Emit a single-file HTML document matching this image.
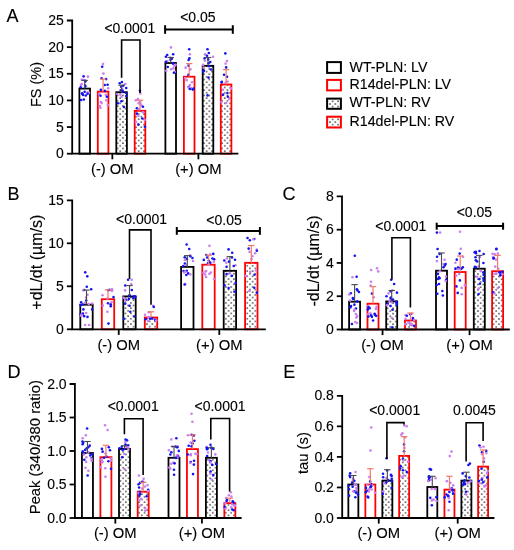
<!DOCTYPE html>
<html><head><meta charset="utf-8"><style>
html,body{margin:0;padding:0;background:#fff;width:514px;height:550px;overflow:hidden;}
body{position:relative;font-family:"Liberation Sans", sans-serif;}
text{stroke:#000;stroke-width:0.12px;}
</style></head><body>
<svg width="514" height="550" viewBox="0 0 514 550" style="position:absolute;left:0;top:0;filter:blur(0.3px)">
<defs>
<pattern id="dots" patternUnits="userSpaceOnUse" width="5.4" height="5.3" x="0" y="0"><circle cx="1.35" cy="1.3" r="0.75" fill="#222"/><circle cx="4.05" cy="3.95" r="0.75" fill="#222"/></pattern>
</defs>
<rect x="0" y="0" width="514" height="550" fill="#fff"/>
<g style='font-family:"Liberation Sans", sans-serif' fill="#000">
<rect x="79.40" y="88.60" width="10.60" height="65.10" fill="#fff" stroke="#000" stroke-width="1.8"/>
<rect x="97.80" y="91.60" width="10.60" height="62.10" fill="#fff" stroke="#ff0000" stroke-width="1.8"/>
<pattern id="pA2" patternUnits="userSpaceOnUse" width="5.4" height="5.3" x="117.55" y="153.70"><circle cx="0.00" cy="0.00" r="0.76" fill="#000"/><circle cx="5.40" cy="0.00" r="0.76" fill="#000"/><circle cx="0.00" cy="5.30" r="0.76" fill="#000"/><circle cx="5.40" cy="5.30" r="0.76" fill="#000"/><circle cx="2.70" cy="2.65" r="0.76" fill="#000"/></pattern>
<rect x="116.30" y="92.20" width="10.60" height="61.50" fill="url(#pA2)" stroke="#000" stroke-width="1.8"/>
<pattern id="pA3" patternUnits="userSpaceOnUse" width="5.4" height="5.3" x="135.95" y="153.70"><circle cx="0.00" cy="0.00" r="0.76" fill="#000"/><circle cx="5.40" cy="0.00" r="0.76" fill="#000"/><circle cx="0.00" cy="5.30" r="0.76" fill="#000"/><circle cx="5.40" cy="5.30" r="0.76" fill="#000"/><circle cx="2.70" cy="2.65" r="0.76" fill="#000"/></pattern>
<rect x="134.70" y="110.80" width="10.60" height="42.90" fill="url(#pA3)" stroke="#ff0000" stroke-width="1.8"/>
<rect x="165.40" y="63.00" width="10.60" height="90.70" fill="#fff" stroke="#000" stroke-width="1.8"/>
<rect x="183.90" y="76.70" width="10.60" height="77.00" fill="#fff" stroke="#ff0000" stroke-width="1.8"/>
<pattern id="pA6" patternUnits="userSpaceOnUse" width="5.4" height="5.3" x="203.95" y="153.70"><circle cx="0.00" cy="0.00" r="0.76" fill="#000"/><circle cx="5.40" cy="0.00" r="0.76" fill="#000"/><circle cx="0.00" cy="5.30" r="0.76" fill="#000"/><circle cx="5.40" cy="5.30" r="0.76" fill="#000"/><circle cx="2.70" cy="2.65" r="0.76" fill="#000"/></pattern>
<rect x="202.70" y="65.80" width="10.60" height="87.90" fill="url(#pA6)" stroke="#000" stroke-width="1.8"/>
<pattern id="pA7" patternUnits="userSpaceOnUse" width="5.4" height="5.3" x="222.05" y="153.70"><circle cx="0.00" cy="0.00" r="0.76" fill="#000"/><circle cx="5.40" cy="0.00" r="0.76" fill="#000"/><circle cx="0.00" cy="5.30" r="0.76" fill="#000"/><circle cx="5.40" cy="5.30" r="0.76" fill="#000"/><circle cx="2.70" cy="2.65" r="0.76" fill="#000"/></pattern>
<rect x="220.80" y="84.50" width="10.60" height="69.20" fill="url(#pA7)" stroke="#ff0000" stroke-width="1.8"/>
<circle cx="83.63" cy="76.36" r="1.3" fill="#1414f0"/>
<circle cx="87.98" cy="76.64" r="1.3" fill="#cc7eee"/>
<circle cx="81.79" cy="79.67" r="1.3" fill="#cc7eee"/>
<circle cx="83.87" cy="80.03" r="1.3" fill="#cc7eee"/>
<circle cx="85.22" cy="80.79" r="1.3" fill="#1414f0"/>
<circle cx="85.37" cy="81.41" r="1.3" fill="#1414f0"/>
<circle cx="81.86" cy="84.10" r="1.3" fill="#cc7eee"/>
<circle cx="80.96" cy="84.93" r="1.3" fill="#cc7eee"/>
<circle cx="85.11" cy="85.66" r="1.3" fill="#1414f0"/>
<circle cx="85.31" cy="86.53" r="1.3" fill="#1414f0"/>
<circle cx="80.65" cy="87.30" r="1.3" fill="#1414f0"/>
<circle cx="84.66" cy="91.84" r="1.3" fill="#1414f0"/>
<circle cx="87.53" cy="92.34" r="1.3" fill="#cc7eee"/>
<circle cx="89.02" cy="92.85" r="1.3" fill="#cc7eee"/>
<circle cx="82.13" cy="93.34" r="1.3" fill="#1414f0"/>
<circle cx="87.55" cy="93.81" r="1.3" fill="#1414f0"/>
<circle cx="82.66" cy="94.31" r="1.3" fill="#1414f0"/>
<circle cx="83.10" cy="94.97" r="1.3" fill="#1414f0"/>
<circle cx="85.81" cy="95.48" r="1.3" fill="#1414f0"/>
<circle cx="83.86" cy="99.50" r="1.3" fill="#1414f0"/>
<circle cx="81.15" cy="100.00" r="1.3" fill="#1414f0"/>
<circle cx="103.08" cy="64.10" r="1.3" fill="#cc7eee"/>
<circle cx="102.18" cy="66.80" r="1.3" fill="#1414f0"/>
<circle cx="103.44" cy="73.60" r="1.3" fill="#cc7eee"/>
<circle cx="101.57" cy="78.20" r="1.3" fill="#1414f0"/>
<circle cx="106.13" cy="79.10" r="1.3" fill="#1414f0"/>
<circle cx="107.64" cy="84.76" r="1.3" fill="#1414f0"/>
<circle cx="104.77" cy="85.00" r="1.3" fill="#1414f0"/>
<circle cx="108.13" cy="88.32" r="1.3" fill="#cc7eee"/>
<circle cx="100.90" cy="89.87" r="1.3" fill="#1414f0"/>
<circle cx="104.82" cy="90.90" r="1.3" fill="#1414f0"/>
<circle cx="99.19" cy="94.10" r="1.3" fill="#cc7eee"/>
<circle cx="105.84" cy="94.76" r="1.3" fill="#cc7eee"/>
<circle cx="100.53" cy="95.70" r="1.3" fill="#1414f0"/>
<circle cx="106.89" cy="96.74" r="1.3" fill="#1414f0"/>
<circle cx="106.36" cy="100.37" r="1.3" fill="#cc7eee"/>
<circle cx="100.84" cy="101.95" r="1.3" fill="#cc7eee"/>
<circle cx="101.66" cy="103.12" r="1.3" fill="#cc7eee"/>
<circle cx="107.77" cy="105.17" r="1.3" fill="#cc7eee"/>
<circle cx="99.80" cy="106.06" r="1.3" fill="#cc7eee"/>
<circle cx="100.38" cy="107.74" r="1.3" fill="#cc7eee"/>
<circle cx="121.95" cy="82.00" r="1.3" fill="#1414f0"/>
<circle cx="119.75" cy="83.22" r="1.3" fill="#1414f0"/>
<circle cx="125.26" cy="84.03" r="1.3" fill="#cc7eee"/>
<circle cx="123.18" cy="85.74" r="1.3" fill="#1414f0"/>
<circle cx="121.16" cy="86.74" r="1.3" fill="#1414f0"/>
<circle cx="126.21" cy="87.97" r="1.3" fill="#1414f0"/>
<circle cx="122.20" cy="88.98" r="1.3" fill="#cc7eee"/>
<circle cx="120.52" cy="89.93" r="1.3" fill="#cc7eee"/>
<circle cx="120.99" cy="90.29" r="1.3" fill="#1414f0"/>
<circle cx="122.63" cy="90.77" r="1.3" fill="#1414f0"/>
<circle cx="122.28" cy="91.76" r="1.3" fill="#1414f0"/>
<circle cx="126.18" cy="93.02" r="1.3" fill="#1414f0"/>
<circle cx="117.22" cy="94.07" r="1.3" fill="#cc7eee"/>
<circle cx="120.34" cy="94.82" r="1.3" fill="#cc7eee"/>
<circle cx="126.25" cy="96.00" r="1.3" fill="#1414f0"/>
<circle cx="121.48" cy="97.00" r="1.3" fill="#cc7eee"/>
<circle cx="121.40" cy="101.29" r="1.3" fill="#1414f0"/>
<circle cx="117.97" cy="103.29" r="1.3" fill="#1414f0"/>
<circle cx="124.05" cy="107.00" r="1.3" fill="#1414f0"/>
<circle cx="139.96" cy="90.70" r="1.3" fill="#1414f0"/>
<circle cx="140.38" cy="93.50" r="1.3" fill="#cc7eee"/>
<circle cx="137.94" cy="99.10" r="1.3" fill="#cc7eee"/>
<circle cx="135.83" cy="100.31" r="1.3" fill="#cc7eee"/>
<circle cx="140.19" cy="101.77" r="1.3" fill="#cc7eee"/>
<circle cx="138.53" cy="103.12" r="1.3" fill="#cc7eee"/>
<circle cx="140.42" cy="103.88" r="1.3" fill="#cc7eee"/>
<circle cx="141.39" cy="105.40" r="1.3" fill="#cc7eee"/>
<circle cx="142.94" cy="106.79" r="1.3" fill="#1414f0"/>
<circle cx="136.89" cy="108.20" r="1.3" fill="#1414f0"/>
<circle cx="138.99" cy="109.10" r="1.3" fill="#cc7eee"/>
<circle cx="142.96" cy="112.14" r="1.3" fill="#cc7eee"/>
<circle cx="136.88" cy="113.65" r="1.3" fill="#1414f0"/>
<circle cx="138.41" cy="116.01" r="1.3" fill="#cc7eee"/>
<circle cx="142.28" cy="118.46" r="1.3" fill="#1414f0"/>
<circle cx="144.84" cy="120.05" r="1.3" fill="#cc7eee"/>
<circle cx="135.94" cy="121.88" r="1.3" fill="#cc7eee"/>
<circle cx="138.34" cy="124.58" r="1.3" fill="#1414f0"/>
<circle cx="144.95" cy="126.78" r="1.3" fill="#1414f0"/>
<circle cx="170.92" cy="47.40" r="1.3" fill="#cc7eee"/>
<circle cx="173.18" cy="54.20" r="1.3" fill="#1414f0"/>
<circle cx="167.22" cy="55.02" r="1.3" fill="#1414f0"/>
<circle cx="165.88" cy="56.70" r="1.3" fill="#1414f0"/>
<circle cx="170.35" cy="57.52" r="1.3" fill="#cc7eee"/>
<circle cx="171.84" cy="58.65" r="1.3" fill="#1414f0"/>
<circle cx="170.44" cy="59.70" r="1.3" fill="#1414f0"/>
<circle cx="167.19" cy="61.02" r="1.3" fill="#cc7eee"/>
<circle cx="165.82" cy="61.85" r="1.3" fill="#1414f0"/>
<circle cx="173.01" cy="63.10" r="1.3" fill="#1414f0"/>
<circle cx="173.24" cy="63.73" r="1.3" fill="#1414f0"/>
<circle cx="175.66" cy="64.85" r="1.3" fill="#cc7eee"/>
<circle cx="174.51" cy="65.97" r="1.3" fill="#cc7eee"/>
<circle cx="167.77" cy="66.95" r="1.3" fill="#1414f0"/>
<circle cx="173.39" cy="68.35" r="1.3" fill="#cc7eee"/>
<circle cx="171.15" cy="69.32" r="1.3" fill="#cc7eee"/>
<circle cx="166.22" cy="70.74" r="1.3" fill="#cc7eee"/>
<circle cx="174.76" cy="71.77" r="1.3" fill="#cc7eee"/>
<circle cx="173.91" cy="72.70" r="1.3" fill="#1414f0"/>
<circle cx="189.23" cy="49.30" r="1.3" fill="#1414f0"/>
<circle cx="189.85" cy="54.20" r="1.3" fill="#cc7eee"/>
<circle cx="189.44" cy="58.35" r="1.3" fill="#1414f0"/>
<circle cx="188.59" cy="60.01" r="1.3" fill="#1414f0"/>
<circle cx="188.57" cy="65.60" r="1.3" fill="#1414f0"/>
<circle cx="185.63" cy="67.66" r="1.3" fill="#cc7eee"/>
<circle cx="190.41" cy="69.40" r="1.3" fill="#cc7eee"/>
<circle cx="188.44" cy="74.90" r="1.3" fill="#1414f0"/>
<circle cx="185.18" cy="78.02" r="1.3" fill="#cc7eee"/>
<circle cx="186.63" cy="80.16" r="1.3" fill="#cc7eee"/>
<circle cx="191.98" cy="82.20" r="1.3" fill="#cc7eee"/>
<circle cx="189.83" cy="85.00" r="1.3" fill="#cc7eee"/>
<circle cx="188.71" cy="86.96" r="1.3" fill="#1414f0"/>
<circle cx="188.98" cy="87.45" r="1.3" fill="#cc7eee"/>
<circle cx="191.23" cy="88.12" r="1.3" fill="#cc7eee"/>
<circle cx="193.71" cy="88.64" r="1.3" fill="#1414f0"/>
<circle cx="189.81" cy="88.98" r="1.3" fill="#1414f0"/>
<circle cx="192.67" cy="89.60" r="1.3" fill="#1414f0"/>
<circle cx="207.46" cy="49.20" r="1.3" fill="#1414f0"/>
<circle cx="208.86" cy="52.94" r="1.3" fill="#1414f0"/>
<circle cx="205.14" cy="54.38" r="1.3" fill="#cc7eee"/>
<circle cx="206.96" cy="55.74" r="1.3" fill="#1414f0"/>
<circle cx="213.00" cy="56.73" r="1.3" fill="#cc7eee"/>
<circle cx="204.55" cy="58.38" r="1.3" fill="#1414f0"/>
<circle cx="208.16" cy="59.42" r="1.3" fill="#1414f0"/>
<circle cx="204.90" cy="60.71" r="1.3" fill="#cc7eee"/>
<circle cx="210.27" cy="62.07" r="1.3" fill="#1414f0"/>
<circle cx="208.55" cy="63.19" r="1.3" fill="#1414f0"/>
<circle cx="203.08" cy="64.90" r="1.3" fill="#cc7eee"/>
<circle cx="209.26" cy="66.18" r="1.3" fill="#1414f0"/>
<circle cx="203.56" cy="67.70" r="1.3" fill="#cc7eee"/>
<circle cx="210.94" cy="69.46" r="1.3" fill="#1414f0"/>
<circle cx="203.97" cy="70.82" r="1.3" fill="#1414f0"/>
<circle cx="203.30" cy="71.61" r="1.3" fill="#1414f0"/>
<circle cx="208.56" cy="77.60" r="1.3" fill="#1414f0"/>
<circle cx="207.54" cy="95.40" r="1.3" fill="#1414f0"/>
<circle cx="225.36" cy="53.40" r="1.3" fill="#1414f0"/>
<circle cx="226.98" cy="61.07" r="1.3" fill="#cc7eee"/>
<circle cx="225.63" cy="63.60" r="1.3" fill="#cc7eee"/>
<circle cx="226.17" cy="67.40" r="1.3" fill="#1414f0"/>
<circle cx="224.05" cy="74.78" r="1.3" fill="#1414f0"/>
<circle cx="227.04" cy="76.75" r="1.3" fill="#1414f0"/>
<circle cx="227.47" cy="81.51" r="1.3" fill="#cc7eee"/>
<circle cx="221.85" cy="81.91" r="1.3" fill="#1414f0"/>
<circle cx="221.68" cy="82.36" r="1.3" fill="#1414f0"/>
<circle cx="225.63" cy="82.70" r="1.3" fill="#cc7eee"/>
<circle cx="230.89" cy="88.40" r="1.3" fill="#cc7eee"/>
<circle cx="222.85" cy="89.75" r="1.3" fill="#cc7eee"/>
<circle cx="227.41" cy="92.93" r="1.3" fill="#1414f0"/>
<circle cx="223.10" cy="94.66" r="1.3" fill="#1414f0"/>
<circle cx="227.86" cy="96.81" r="1.3" fill="#1414f0"/>
<circle cx="229.20" cy="98.84" r="1.3" fill="#cc7eee"/>
<circle cx="221.38" cy="102.10" r="1.3" fill="#cc7eee"/>
<circle cx="226.16" cy="103.04" r="1.3" fill="#cc7eee"/>
<line x1="84.70" y1="88.60" x2="84.70" y2="80.40" stroke="#4a4a4a" stroke-width="1.1"/>
<line x1="81.50" y1="80.40" x2="87.90" y2="80.40" stroke="#4a4a4a" stroke-width="1.1"/>
<line x1="103.10" y1="91.60" x2="103.10" y2="79.00" stroke="#f27a6a" stroke-width="1.2"/>
<line x1="99.90" y1="79.00" x2="106.30" y2="79.00" stroke="#f27a6a" stroke-width="1.2"/>
<line x1="121.60" y1="92.20" x2="121.60" y2="85.20" stroke="#4a4a4a" stroke-width="1.1"/>
<line x1="118.40" y1="85.20" x2="124.80" y2="85.20" stroke="#4a4a4a" stroke-width="1.1"/>
<line x1="140.00" y1="110.80" x2="140.00" y2="100.20" stroke="#f27a6a" stroke-width="1.2"/>
<line x1="136.80" y1="100.20" x2="143.20" y2="100.20" stroke="#f27a6a" stroke-width="1.2"/>
<line x1="170.70" y1="63.00" x2="170.70" y2="57.50" stroke="#4a4a4a" stroke-width="1.1"/>
<line x1="167.50" y1="57.50" x2="173.90" y2="57.50" stroke="#4a4a4a" stroke-width="1.1"/>
<line x1="189.20" y1="76.70" x2="189.20" y2="63.60" stroke="#f27a6a" stroke-width="1.2"/>
<line x1="186.00" y1="63.60" x2="192.40" y2="63.60" stroke="#f27a6a" stroke-width="1.2"/>
<line x1="208.00" y1="65.80" x2="208.00" y2="57.50" stroke="#4a4a4a" stroke-width="1.1"/>
<line x1="204.80" y1="57.50" x2="211.20" y2="57.50" stroke="#4a4a4a" stroke-width="1.1"/>
<line x1="226.10" y1="84.50" x2="226.10" y2="69.60" stroke="#f27a6a" stroke-width="1.2"/>
<line x1="222.90" y1="69.60" x2="229.30" y2="69.60" stroke="#f27a6a" stroke-width="1.2"/>
<path d="M66.90,20.50 H72.20 V153.70 H238.40" fill="none" stroke="#000" stroke-width="1.8" stroke-linecap="butt" stroke-linejoin="miter"/>
<line x1="66.90" y1="153.70" x2="72.20" y2="153.70" stroke="#000" stroke-width="1.8"/>
<line x1="66.90" y1="127.06" x2="72.20" y2="127.06" stroke="#000" stroke-width="1.8"/>
<line x1="66.90" y1="100.42" x2="72.20" y2="100.42" stroke="#000" stroke-width="1.8"/>
<line x1="66.90" y1="73.78" x2="72.20" y2="73.78" stroke="#000" stroke-width="1.8"/>
<line x1="66.90" y1="47.14" x2="72.20" y2="47.14" stroke="#000" stroke-width="1.8"/>
<text x="63.90" y="158.30" font-size="14" text-anchor="end" >0</text>
<text x="63.90" y="131.66" font-size="14" text-anchor="end" >5</text>
<text x="63.90" y="105.02" font-size="14" text-anchor="end" >10</text>
<text x="63.90" y="78.38" font-size="14" text-anchor="end" >15</text>
<text x="63.90" y="51.74" font-size="14" text-anchor="end" >20</text>
<text x="63.90" y="25.10" font-size="14" text-anchor="end" >25</text>
<line x1="112.35" y1="153.70" x2="112.35" y2="159.30" stroke="#000" stroke-width="1.8"/>
<line x1="198.40" y1="153.70" x2="198.40" y2="159.30" stroke="#000" stroke-width="1.8"/>
<text x="112.35" y="174.30" font-size="14.8" text-anchor="middle" >(-) OM</text>
<text x="198.40" y="174.30" font-size="14.8" text-anchor="middle" >(+) OM</text>
<text x="0" y="0" font-size="14.5" text-anchor="middle" transform="translate(41.10,84.50) rotate(-90)">FS (%)</text>
<text x="6.60" y="22.00" font-size="18" text-anchor="start" >A</text>
<text x="129.90" y="32.80" font-size="14" text-anchor="middle" >&lt;0.0001</text>
<path d="M121.60,77.80 V40.00 H140.00 V93.00" fill="none" stroke="#000" stroke-width="1.6" stroke-linecap="butt" stroke-linejoin="miter"/>
<text x="197.90" y="21.80" font-size="14" text-anchor="middle" >&lt;0.05</text>
<line x1="165.10" y1="29.40" x2="232.80" y2="29.40" stroke="#000" stroke-width="2.0"/>
<line x1="165.10" y1="25.20" x2="165.10" y2="33.80" stroke="#000" stroke-width="2.0"/>
<line x1="232.80" y1="25.20" x2="232.80" y2="33.80" stroke="#000" stroke-width="2.0"/>
<rect x="80.30" y="304.70" width="12.40" height="24.60" fill="#fff" stroke="#000" stroke-width="1.8"/>
<rect x="101.80" y="299.20" width="12.40" height="30.10" fill="#fff" stroke="#ff0000" stroke-width="1.8"/>
<pattern id="pB2" patternUnits="userSpaceOnUse" width="5.4" height="5.3" x="125.45" y="329.30"><circle cx="0.00" cy="0.00" r="0.76" fill="#000"/><circle cx="5.40" cy="0.00" r="0.76" fill="#000"/><circle cx="0.00" cy="5.30" r="0.76" fill="#000"/><circle cx="5.40" cy="5.30" r="0.76" fill="#000"/><circle cx="2.70" cy="2.65" r="0.76" fill="#000"/></pattern>
<rect x="123.30" y="296.40" width="12.40" height="32.90" fill="url(#pB2)" stroke="#000" stroke-width="1.8"/>
<pattern id="pB3" patternUnits="userSpaceOnUse" width="5.4" height="5.3" x="146.95" y="329.30"><circle cx="0.00" cy="0.00" r="0.76" fill="#000"/><circle cx="5.40" cy="0.00" r="0.76" fill="#000"/><circle cx="0.00" cy="5.30" r="0.76" fill="#000"/><circle cx="5.40" cy="5.30" r="0.76" fill="#000"/><circle cx="2.70" cy="2.65" r="0.76" fill="#000"/></pattern>
<rect x="144.80" y="317.50" width="12.40" height="11.80" fill="url(#pB3)" stroke="#ff0000" stroke-width="1.8"/>
<rect x="181.10" y="266.90" width="12.40" height="62.40" fill="#fff" stroke="#000" stroke-width="1.8"/>
<rect x="202.30" y="264.70" width="12.40" height="64.60" fill="#fff" stroke="#ff0000" stroke-width="1.8"/>
<pattern id="pB6" patternUnits="userSpaceOnUse" width="5.4" height="5.3" x="225.85" y="329.30"><circle cx="0.00" cy="0.00" r="0.76" fill="#000"/><circle cx="5.40" cy="0.00" r="0.76" fill="#000"/><circle cx="0.00" cy="5.30" r="0.76" fill="#000"/><circle cx="5.40" cy="5.30" r="0.76" fill="#000"/><circle cx="2.70" cy="2.65" r="0.76" fill="#000"/></pattern>
<rect x="223.70" y="270.80" width="12.40" height="58.50" fill="url(#pB6)" stroke="#000" stroke-width="1.8"/>
<pattern id="pB7" patternUnits="userSpaceOnUse" width="5.4" height="5.3" x="247.25" y="329.30"><circle cx="0.00" cy="0.00" r="0.76" fill="#000"/><circle cx="5.40" cy="0.00" r="0.76" fill="#000"/><circle cx="0.00" cy="5.30" r="0.76" fill="#000"/><circle cx="5.40" cy="5.30" r="0.76" fill="#000"/><circle cx="2.70" cy="2.65" r="0.76" fill="#000"/></pattern>
<rect x="245.10" y="262.80" width="12.40" height="66.50" fill="url(#pB7)" stroke="#ff0000" stroke-width="1.8"/>
<circle cx="85.23" cy="272.34" r="1.3" fill="#1414f0"/>
<circle cx="87.29" cy="276.37" r="1.3" fill="#1414f0"/>
<circle cx="86.80" cy="286.70" r="1.3" fill="#1414f0"/>
<circle cx="91.16" cy="289.32" r="1.3" fill="#1414f0"/>
<circle cx="84.19" cy="290.01" r="1.3" fill="#1414f0"/>
<circle cx="83.25" cy="290.31" r="1.3" fill="#cc7eee"/>
<circle cx="87.53" cy="294.70" r="1.3" fill="#cc7eee"/>
<circle cx="86.02" cy="297.50" r="1.3" fill="#cc7eee"/>
<circle cx="86.20" cy="300.50" r="1.3" fill="#1414f0"/>
<circle cx="81.16" cy="302.30" r="1.3" fill="#1414f0"/>
<circle cx="85.07" cy="302.94" r="1.3" fill="#cc7eee"/>
<circle cx="92.15" cy="303.46" r="1.3" fill="#cc7eee"/>
<circle cx="88.81" cy="304.07" r="1.3" fill="#cc7eee"/>
<circle cx="82.72" cy="304.46" r="1.3" fill="#1414f0"/>
<circle cx="80.54" cy="305.12" r="1.3" fill="#1414f0"/>
<circle cx="92.17" cy="309.40" r="1.3" fill="#1414f0"/>
<circle cx="83.43" cy="309.40" r="1.3" fill="#1414f0"/>
<circle cx="86.20" cy="313.00" r="1.3" fill="#cc7eee"/>
<circle cx="82.91" cy="313.67" r="1.3" fill="#1414f0"/>
<circle cx="80.56" cy="314.34" r="1.3" fill="#1414f0"/>
<circle cx="81.58" cy="314.91" r="1.3" fill="#cc7eee"/>
<circle cx="81.00" cy="315.63" r="1.3" fill="#cc7eee"/>
<circle cx="84.15" cy="316.14" r="1.3" fill="#1414f0"/>
<circle cx="87.53" cy="316.89" r="1.3" fill="#1414f0"/>
<circle cx="89.09" cy="325.00" r="1.3" fill="#cc7eee"/>
<circle cx="85.17" cy="325.00" r="1.3" fill="#cc7eee"/>
<circle cx="112.02" cy="289.30" r="1.3" fill="#cc7eee"/>
<circle cx="109.53" cy="289.72" r="1.3" fill="#1414f0"/>
<circle cx="111.75" cy="290.03" r="1.3" fill="#cc7eee"/>
<circle cx="108.29" cy="290.25" r="1.3" fill="#1414f0"/>
<circle cx="112.02" cy="290.66" r="1.3" fill="#cc7eee"/>
<circle cx="111.92" cy="291.00" r="1.3" fill="#cc7eee"/>
<circle cx="102.50" cy="295.20" r="1.3" fill="#cc7eee"/>
<circle cx="113.51" cy="297.09" r="1.3" fill="#1414f0"/>
<circle cx="107.42" cy="298.57" r="1.3" fill="#cc7eee"/>
<circle cx="111.57" cy="302.30" r="1.3" fill="#cc7eee"/>
<circle cx="108.04" cy="303.24" r="1.3" fill="#1414f0"/>
<circle cx="109.91" cy="303.96" r="1.3" fill="#cc7eee"/>
<circle cx="110.84" cy="304.55" r="1.3" fill="#1414f0"/>
<circle cx="102.89" cy="305.46" r="1.3" fill="#cc7eee"/>
<circle cx="110.75" cy="306.28" r="1.3" fill="#1414f0"/>
<circle cx="107.41" cy="311.70" r="1.3" fill="#cc7eee"/>
<circle cx="108.48" cy="323.60" r="1.3" fill="#1414f0"/>
<circle cx="128.09" cy="279.80" r="1.3" fill="#1414f0"/>
<circle cx="131.70" cy="279.80" r="1.3" fill="#cc7eee"/>
<circle cx="131.21" cy="284.14" r="1.3" fill="#cc7eee"/>
<circle cx="125.27" cy="285.49" r="1.3" fill="#1414f0"/>
<circle cx="131.81" cy="289.95" r="1.3" fill="#1414f0"/>
<circle cx="125.10" cy="290.40" r="1.3" fill="#cc7eee"/>
<circle cx="129.70" cy="295.20" r="1.3" fill="#1414f0"/>
<circle cx="129.10" cy="295.78" r="1.3" fill="#1414f0"/>
<circle cx="134.22" cy="296.24" r="1.3" fill="#1414f0"/>
<circle cx="135.24" cy="296.86" r="1.3" fill="#1414f0"/>
<circle cx="123.71" cy="297.71" r="1.3" fill="#cc7eee"/>
<circle cx="133.34" cy="298.13" r="1.3" fill="#1414f0"/>
<circle cx="128.89" cy="298.90" r="1.3" fill="#1414f0"/>
<circle cx="126.02" cy="299.24" r="1.3" fill="#cc7eee"/>
<circle cx="126.03" cy="300.07" r="1.3" fill="#1414f0"/>
<circle cx="125.20" cy="300.50" r="1.3" fill="#cc7eee"/>
<circle cx="125.09" cy="303.69" r="1.3" fill="#1414f0"/>
<circle cx="129.60" cy="305.80" r="1.3" fill="#1414f0"/>
<circle cx="130.27" cy="311.70" r="1.3" fill="#1414f0"/>
<circle cx="134.27" cy="316.50" r="1.3" fill="#1414f0"/>
<circle cx="123.80" cy="318.78" r="1.3" fill="#1414f0"/>
<circle cx="153.18" cy="305.69" r="1.3" fill="#cc7eee"/>
<circle cx="153.73" cy="306.90" r="1.3" fill="#1414f0"/>
<circle cx="148.79" cy="312.30" r="1.3" fill="#cc7eee"/>
<circle cx="145.02" cy="314.70" r="1.3" fill="#cc7eee"/>
<circle cx="148.48" cy="317.14" r="1.3" fill="#cc7eee"/>
<circle cx="149.71" cy="317.55" r="1.3" fill="#cc7eee"/>
<circle cx="152.07" cy="318.38" r="1.3" fill="#1414f0"/>
<circle cx="150.14" cy="318.75" r="1.3" fill="#1414f0"/>
<circle cx="145.58" cy="319.32" r="1.3" fill="#1414f0"/>
<circle cx="155.02" cy="319.86" r="1.3" fill="#1414f0"/>
<circle cx="156.23" cy="320.52" r="1.3" fill="#cc7eee"/>
<circle cx="148.19" cy="321.11" r="1.3" fill="#cc7eee"/>
<circle cx="186.67" cy="244.50" r="1.3" fill="#1414f0"/>
<circle cx="189.22" cy="249.00" r="1.3" fill="#1414f0"/>
<circle cx="190.09" cy="255.40" r="1.3" fill="#cc7eee"/>
<circle cx="190.33" cy="256.31" r="1.3" fill="#1414f0"/>
<circle cx="184.73" cy="257.35" r="1.3" fill="#1414f0"/>
<circle cx="192.42" cy="257.95" r="1.3" fill="#1414f0"/>
<circle cx="186.97" cy="258.92" r="1.3" fill="#1414f0"/>
<circle cx="184.87" cy="259.98" r="1.3" fill="#cc7eee"/>
<circle cx="193.02" cy="261.00" r="1.3" fill="#cc7eee"/>
<circle cx="184.91" cy="263.54" r="1.3" fill="#1414f0"/>
<circle cx="186.03" cy="264.95" r="1.3" fill="#cc7eee"/>
<circle cx="183.24" cy="266.10" r="1.3" fill="#1414f0"/>
<circle cx="186.70" cy="270.72" r="1.3" fill="#1414f0"/>
<circle cx="183.61" cy="271.09" r="1.3" fill="#1414f0"/>
<circle cx="185.40" cy="271.82" r="1.3" fill="#cc7eee"/>
<circle cx="184.17" cy="272.57" r="1.3" fill="#cc7eee"/>
<circle cx="188.14" cy="273.39" r="1.3" fill="#1414f0"/>
<circle cx="190.30" cy="274.42" r="1.3" fill="#cc7eee"/>
<circle cx="186.27" cy="274.96" r="1.3" fill="#1414f0"/>
<circle cx="185.36" cy="284.10" r="1.3" fill="#cc7eee"/>
<circle cx="184.63" cy="284.54" r="1.3" fill="#1414f0"/>
<circle cx="209.44" cy="245.70" r="1.3" fill="#cc7eee"/>
<circle cx="213.26" cy="253.90" r="1.3" fill="#1414f0"/>
<circle cx="210.25" cy="254.41" r="1.3" fill="#cc7eee"/>
<circle cx="206.24" cy="254.98" r="1.3" fill="#1414f0"/>
<circle cx="207.20" cy="257.50" r="1.3" fill="#1414f0"/>
<circle cx="212.41" cy="258.56" r="1.3" fill="#1414f0"/>
<circle cx="214.17" cy="259.37" r="1.3" fill="#1414f0"/>
<circle cx="203.81" cy="259.90" r="1.3" fill="#1414f0"/>
<circle cx="208.77" cy="260.70" r="1.3" fill="#1414f0"/>
<circle cx="213.80" cy="261.81" r="1.3" fill="#cc7eee"/>
<circle cx="210.27" cy="262.67" r="1.3" fill="#1414f0"/>
<circle cx="207.99" cy="263.40" r="1.3" fill="#1414f0"/>
<circle cx="208.60" cy="264.60" r="1.3" fill="#cc7eee"/>
<circle cx="206.15" cy="271.06" r="1.3" fill="#cc7eee"/>
<circle cx="205.52" cy="271.56" r="1.3" fill="#cc7eee"/>
<circle cx="210.88" cy="272.50" r="1.3" fill="#cc7eee"/>
<circle cx="203.34" cy="272.99" r="1.3" fill="#cc7eee"/>
<circle cx="209.49" cy="273.89" r="1.3" fill="#cc7eee"/>
<circle cx="205.18" cy="274.55" r="1.3" fill="#cc7eee"/>
<circle cx="206.12" cy="277.00" r="1.3" fill="#cc7eee"/>
<circle cx="214.01" cy="278.95" r="1.3" fill="#cc7eee"/>
<circle cx="228.57" cy="249.40" r="1.3" fill="#1414f0"/>
<circle cx="232.20" cy="252.71" r="1.3" fill="#1414f0"/>
<circle cx="231.99" cy="257.50" r="1.3" fill="#1414f0"/>
<circle cx="226.99" cy="258.51" r="1.3" fill="#cc7eee"/>
<circle cx="235.00" cy="259.73" r="1.3" fill="#1414f0"/>
<circle cx="224.31" cy="260.51" r="1.3" fill="#1414f0"/>
<circle cx="228.95" cy="261.64" r="1.3" fill="#1414f0"/>
<circle cx="226.28" cy="262.80" r="1.3" fill="#cc7eee"/>
<circle cx="235.54" cy="265.20" r="1.3" fill="#cc7eee"/>
<circle cx="233.74" cy="266.00" r="1.3" fill="#1414f0"/>
<circle cx="226.56" cy="266.85" r="1.3" fill="#1414f0"/>
<circle cx="229.85" cy="273.29" r="1.3" fill="#cc7eee"/>
<circle cx="226.58" cy="274.08" r="1.3" fill="#1414f0"/>
<circle cx="231.88" cy="275.73" r="1.3" fill="#1414f0"/>
<circle cx="235.59" cy="283.00" r="1.3" fill="#1414f0"/>
<circle cx="224.52" cy="285.30" r="1.3" fill="#1414f0"/>
<circle cx="228.62" cy="288.09" r="1.3" fill="#1414f0"/>
<circle cx="234.50" cy="291.80" r="1.3" fill="#1414f0"/>
<circle cx="247.53" cy="238.00" r="1.3" fill="#1414f0"/>
<circle cx="254.26" cy="238.97" r="1.3" fill="#1414f0"/>
<circle cx="253.27" cy="239.32" r="1.3" fill="#cc7eee"/>
<circle cx="249.79" cy="240.24" r="1.3" fill="#1414f0"/>
<circle cx="248.66" cy="248.60" r="1.3" fill="#1414f0"/>
<circle cx="256.77" cy="249.67" r="1.3" fill="#cc7eee"/>
<circle cx="256.87" cy="250.68" r="1.3" fill="#1414f0"/>
<circle cx="249.58" cy="251.92" r="1.3" fill="#cc7eee"/>
<circle cx="255.16" cy="253.30" r="1.3" fill="#cc7eee"/>
<circle cx="252.33" cy="256.30" r="1.3" fill="#cc7eee"/>
<circle cx="251.51" cy="259.24" r="1.3" fill="#cc7eee"/>
<circle cx="256.06" cy="270.50" r="1.3" fill="#cc7eee"/>
<circle cx="250.23" cy="271.91" r="1.3" fill="#cc7eee"/>
<circle cx="254.50" cy="274.80" r="1.3" fill="#1414f0"/>
<circle cx="245.72" cy="275.86" r="1.3" fill="#cc7eee"/>
<circle cx="254.27" cy="287.70" r="1.3" fill="#1414f0"/>
<circle cx="249.37" cy="290.98" r="1.3" fill="#cc7eee"/>
<circle cx="256.79" cy="292.64" r="1.3" fill="#1414f0"/>
<line x1="86.50" y1="304.70" x2="86.50" y2="290.10" stroke="#4a4a4a" stroke-width="1.1"/>
<line x1="83.30" y1="290.10" x2="89.70" y2="290.10" stroke="#4a4a4a" stroke-width="1.1"/>
<line x1="108.00" y1="299.20" x2="108.00" y2="289.80" stroke="#f27a6a" stroke-width="1.2"/>
<line x1="104.80" y1="289.80" x2="111.20" y2="289.80" stroke="#f27a6a" stroke-width="1.2"/>
<line x1="129.50" y1="296.40" x2="129.50" y2="285.60" stroke="#4a4a4a" stroke-width="1.1"/>
<line x1="126.30" y1="285.60" x2="132.70" y2="285.60" stroke="#4a4a4a" stroke-width="1.1"/>
<line x1="151.00" y1="317.50" x2="151.00" y2="311.80" stroke="#f27a6a" stroke-width="1.2"/>
<line x1="147.80" y1="311.80" x2="154.20" y2="311.80" stroke="#f27a6a" stroke-width="1.2"/>
<line x1="187.30" y1="266.90" x2="187.30" y2="255.60" stroke="#4a4a4a" stroke-width="1.1"/>
<line x1="184.10" y1="255.60" x2="190.50" y2="255.60" stroke="#4a4a4a" stroke-width="1.1"/>
<line x1="208.50" y1="264.70" x2="208.50" y2="255.20" stroke="#f27a6a" stroke-width="1.2"/>
<line x1="205.30" y1="255.20" x2="211.70" y2="255.20" stroke="#f27a6a" stroke-width="1.2"/>
<line x1="229.90" y1="270.80" x2="229.90" y2="256.60" stroke="#4a4a4a" stroke-width="1.1"/>
<line x1="226.70" y1="256.60" x2="233.10" y2="256.60" stroke="#4a4a4a" stroke-width="1.1"/>
<line x1="251.30" y1="262.80" x2="251.30" y2="245.50" stroke="#f27a6a" stroke-width="1.2"/>
<line x1="248.10" y1="245.50" x2="254.50" y2="245.50" stroke="#f27a6a" stroke-width="1.2"/>
<path d="M66.90,200.30 H72.20 V329.30 H265.80" fill="none" stroke="#000" stroke-width="1.8" stroke-linecap="butt" stroke-linejoin="miter"/>
<line x1="66.90" y1="329.30" x2="72.20" y2="329.30" stroke="#000" stroke-width="1.8"/>
<line x1="66.90" y1="286.30" x2="72.20" y2="286.30" stroke="#000" stroke-width="1.8"/>
<line x1="66.90" y1="243.30" x2="72.20" y2="243.30" stroke="#000" stroke-width="1.8"/>
<text x="63.90" y="333.90" font-size="14" text-anchor="end" >0</text>
<text x="63.90" y="290.90" font-size="14" text-anchor="end" >5</text>
<text x="63.90" y="247.90" font-size="14" text-anchor="end" >10</text>
<text x="63.90" y="204.90" font-size="14" text-anchor="end" >15</text>
<line x1="118.75" y1="329.30" x2="118.75" y2="334.90" stroke="#000" stroke-width="1.8"/>
<line x1="219.30" y1="329.30" x2="219.30" y2="334.90" stroke="#000" stroke-width="1.8"/>
<text x="118.75" y="349.50" font-size="14.8" text-anchor="middle" >(-) OM</text>
<text x="219.30" y="349.50" font-size="14.8" text-anchor="middle" >(+) OM</text>
<text x="0" y="0" font-size="16" text-anchor="middle" transform="translate(41.60,262.20) rotate(-90)">+dL/dt (µm/s)</text>
<text x="7.40" y="200.10" font-size="18" text-anchor="start" >B</text>
<text x="141.60" y="224.30" font-size="14" text-anchor="middle" >&lt;0.0001</text>
<path d="M129.50,279.00 V229.90 H151.00 V304.70" fill="none" stroke="#000" stroke-width="1.6" stroke-linecap="butt" stroke-linejoin="miter"/>
<text x="224.00" y="224.50" font-size="14" text-anchor="middle" >&lt;0.05</text>
<line x1="176.80" y1="231.00" x2="259.90" y2="231.00" stroke="#000" stroke-width="2.0"/>
<line x1="176.80" y1="227.00" x2="176.80" y2="234.80" stroke="#000" stroke-width="2.0"/>
<line x1="259.90" y1="227.00" x2="259.90" y2="234.80" stroke="#000" stroke-width="2.0"/>
<rect x="349.10" y="301.70" width="11.00" height="27.80" fill="#fff" stroke="#000" stroke-width="1.8"/>
<rect x="367.50" y="303.70" width="11.00" height="25.80" fill="#fff" stroke="#ff0000" stroke-width="1.8"/>
<pattern id="pC2" patternUnits="userSpaceOnUse" width="5.4" height="5.3" x="387.65" y="329.50"><circle cx="0.00" cy="0.00" r="0.76" fill="#000"/><circle cx="5.40" cy="0.00" r="0.76" fill="#000"/><circle cx="0.00" cy="5.30" r="0.76" fill="#000"/><circle cx="5.40" cy="5.30" r="0.76" fill="#000"/><circle cx="2.70" cy="2.65" r="0.76" fill="#000"/></pattern>
<rect x="386.20" y="301.40" width="11.00" height="28.10" fill="url(#pC2)" stroke="#000" stroke-width="1.8"/>
<pattern id="pC3" patternUnits="userSpaceOnUse" width="5.4" height="5.3" x="406.45" y="329.50"><circle cx="0.00" cy="0.00" r="0.76" fill="#000"/><circle cx="5.40" cy="0.00" r="0.76" fill="#000"/><circle cx="0.00" cy="5.30" r="0.76" fill="#000"/><circle cx="5.40" cy="5.30" r="0.76" fill="#000"/><circle cx="2.70" cy="2.65" r="0.76" fill="#000"/></pattern>
<rect x="405.00" y="320.50" width="11.00" height="9.00" fill="url(#pC3)" stroke="#ff0000" stroke-width="1.8"/>
<rect x="436.00" y="270.70" width="11.00" height="58.80" fill="#fff" stroke="#000" stroke-width="1.8"/>
<rect x="454.70" y="272.00" width="11.00" height="57.50" fill="#fff" stroke="#ff0000" stroke-width="1.8"/>
<pattern id="pC6" patternUnits="userSpaceOnUse" width="5.4" height="5.3" x="475.25" y="329.50"><circle cx="0.00" cy="0.00" r="0.76" fill="#000"/><circle cx="5.40" cy="0.00" r="0.76" fill="#000"/><circle cx="0.00" cy="5.30" r="0.76" fill="#000"/><circle cx="5.40" cy="5.30" r="0.76" fill="#000"/><circle cx="2.70" cy="2.65" r="0.76" fill="#000"/></pattern>
<rect x="473.80" y="268.70" width="11.00" height="60.80" fill="url(#pC6)" stroke="#000" stroke-width="1.8"/>
<pattern id="pC7" patternUnits="userSpaceOnUse" width="5.4" height="5.3" x="493.55" y="329.50"><circle cx="0.00" cy="0.00" r="0.76" fill="#000"/><circle cx="5.40" cy="0.00" r="0.76" fill="#000"/><circle cx="0.00" cy="5.30" r="0.76" fill="#000"/><circle cx="5.40" cy="5.30" r="0.76" fill="#000"/><circle cx="2.70" cy="2.65" r="0.76" fill="#000"/></pattern>
<rect x="492.10" y="271.20" width="11.00" height="58.30" fill="url(#pC7)" stroke="#ff0000" stroke-width="1.8"/>
<circle cx="354.83" cy="255.80" r="1.3" fill="#1414f0"/>
<circle cx="356.61" cy="276.69" r="1.3" fill="#1414f0"/>
<circle cx="352.45" cy="277.20" r="1.3" fill="#cc7eee"/>
<circle cx="356.89" cy="289.30" r="1.3" fill="#1414f0"/>
<circle cx="357.53" cy="290.55" r="1.3" fill="#1414f0"/>
<circle cx="358.98" cy="292.07" r="1.3" fill="#1414f0"/>
<circle cx="350.71" cy="293.37" r="1.3" fill="#1414f0"/>
<circle cx="349.39" cy="294.40" r="1.3" fill="#cc7eee"/>
<circle cx="352.77" cy="298.08" r="1.3" fill="#1414f0"/>
<circle cx="353.14" cy="299.07" r="1.3" fill="#1414f0"/>
<circle cx="350.14" cy="300.60" r="1.3" fill="#cc7eee"/>
<circle cx="357.28" cy="301.38" r="1.3" fill="#1414f0"/>
<circle cx="354.41" cy="304.63" r="1.3" fill="#1414f0"/>
<circle cx="351.00" cy="306.01" r="1.3" fill="#1414f0"/>
<circle cx="350.42" cy="307.37" r="1.3" fill="#1414f0"/>
<circle cx="355.92" cy="308.52" r="1.3" fill="#1414f0"/>
<circle cx="354.58" cy="309.60" r="1.3" fill="#cc7eee"/>
<circle cx="354.04" cy="311.00" r="1.3" fill="#cc7eee"/>
<circle cx="355.88" cy="314.00" r="1.3" fill="#cc7eee"/>
<circle cx="357.23" cy="315.99" r="1.3" fill="#cc7eee"/>
<circle cx="356.34" cy="317.60" r="1.3" fill="#cc7eee"/>
<circle cx="355.31" cy="322.00" r="1.3" fill="#cc7eee"/>
<circle cx="357.12" cy="323.02" r="1.3" fill="#cc7eee"/>
<circle cx="351.92" cy="324.00" r="1.3" fill="#1414f0"/>
<circle cx="377.07" cy="268.20" r="1.3" fill="#cc7eee"/>
<circle cx="371.16" cy="269.93" r="1.3" fill="#cc7eee"/>
<circle cx="378.22" cy="271.40" r="1.3" fill="#cc7eee"/>
<circle cx="371.00" cy="281.69" r="1.3" fill="#cc7eee"/>
<circle cx="370.69" cy="285.51" r="1.3" fill="#cc7eee"/>
<circle cx="372.01" cy="293.60" r="1.3" fill="#1414f0"/>
<circle cx="373.77" cy="297.30" r="1.3" fill="#cc7eee"/>
<circle cx="368.23" cy="306.00" r="1.3" fill="#cc7eee"/>
<circle cx="376.48" cy="306.76" r="1.3" fill="#cc7eee"/>
<circle cx="368.50" cy="307.31" r="1.3" fill="#1414f0"/>
<circle cx="369.58" cy="308.17" r="1.3" fill="#1414f0"/>
<circle cx="375.91" cy="308.92" r="1.3" fill="#cc7eee"/>
<circle cx="367.77" cy="309.60" r="1.3" fill="#1414f0"/>
<circle cx="370.40" cy="313.30" r="1.3" fill="#cc7eee"/>
<circle cx="374.61" cy="313.86" r="1.3" fill="#1414f0"/>
<circle cx="367.82" cy="314.26" r="1.3" fill="#cc7eee"/>
<circle cx="374.89" cy="314.83" r="1.3" fill="#1414f0"/>
<circle cx="371.01" cy="315.31" r="1.3" fill="#1414f0"/>
<circle cx="376.13" cy="315.85" r="1.3" fill="#1414f0"/>
<circle cx="368.37" cy="316.49" r="1.3" fill="#1414f0"/>
<circle cx="371.89" cy="316.87" r="1.3" fill="#1414f0"/>
<circle cx="373.10" cy="320.50" r="1.3" fill="#1414f0"/>
<circle cx="391.19" cy="279.80" r="1.3" fill="#1414f0"/>
<circle cx="394.14" cy="283.96" r="1.3" fill="#1414f0"/>
<circle cx="392.41" cy="290.20" r="1.3" fill="#cc7eee"/>
<circle cx="390.81" cy="291.21" r="1.3" fill="#1414f0"/>
<circle cx="396.96" cy="292.64" r="1.3" fill="#1414f0"/>
<circle cx="388.49" cy="293.41" r="1.3" fill="#cc7eee"/>
<circle cx="386.46" cy="296.20" r="1.3" fill="#1414f0"/>
<circle cx="390.89" cy="297.57" r="1.3" fill="#1414f0"/>
<circle cx="390.71" cy="298.40" r="1.3" fill="#1414f0"/>
<circle cx="393.00" cy="299.50" r="1.3" fill="#1414f0"/>
<circle cx="391.75" cy="300.17" r="1.3" fill="#1414f0"/>
<circle cx="389.40" cy="300.79" r="1.3" fill="#cc7eee"/>
<circle cx="396.21" cy="301.68" r="1.3" fill="#1414f0"/>
<circle cx="391.60" cy="302.22" r="1.3" fill="#cc7eee"/>
<circle cx="396.65" cy="303.24" r="1.3" fill="#1414f0"/>
<circle cx="387.74" cy="303.70" r="1.3" fill="#1414f0"/>
<circle cx="396.74" cy="304.75" r="1.3" fill="#1414f0"/>
<circle cx="386.97" cy="305.27" r="1.3" fill="#cc7eee"/>
<circle cx="390.51" cy="306.00" r="1.3" fill="#1414f0"/>
<circle cx="392.51" cy="309.80" r="1.3" fill="#1414f0"/>
<circle cx="391.94" cy="318.00" r="1.3" fill="#cc7eee"/>
<circle cx="392.35" cy="327.30" r="1.3" fill="#1414f0"/>
<circle cx="411.72" cy="313.75" r="1.3" fill="#cc7eee"/>
<circle cx="410.21" cy="314.27" r="1.3" fill="#1414f0"/>
<circle cx="405.64" cy="315.13" r="1.3" fill="#cc7eee"/>
<circle cx="406.86" cy="315.80" r="1.3" fill="#1414f0"/>
<circle cx="412.88" cy="318.00" r="1.3" fill="#1414f0"/>
<circle cx="405.64" cy="318.91" r="1.3" fill="#cc7eee"/>
<circle cx="413.23" cy="319.49" r="1.3" fill="#1414f0"/>
<circle cx="414.08" cy="320.00" r="1.3" fill="#cc7eee"/>
<circle cx="408.47" cy="322.45" r="1.3" fill="#cc7eee"/>
<circle cx="409.33" cy="322.87" r="1.3" fill="#cc7eee"/>
<circle cx="410.54" cy="323.46" r="1.3" fill="#cc7eee"/>
<circle cx="405.24" cy="323.94" r="1.3" fill="#cc7eee"/>
<circle cx="410.13" cy="324.76" r="1.3" fill="#cc7eee"/>
<circle cx="411.76" cy="325.13" r="1.3" fill="#cc7eee"/>
<circle cx="414.07" cy="325.70" r="1.3" fill="#1414f0"/>
<circle cx="436.91" cy="232.60" r="1.3" fill="#1414f0"/>
<circle cx="440.07" cy="232.60" r="1.3" fill="#cc7eee"/>
<circle cx="437.58" cy="249.00" r="1.3" fill="#1414f0"/>
<circle cx="439.53" cy="253.89" r="1.3" fill="#1414f0"/>
<circle cx="437.05" cy="256.80" r="1.3" fill="#1414f0"/>
<circle cx="444.51" cy="259.71" r="1.3" fill="#cc7eee"/>
<circle cx="436.90" cy="261.11" r="1.3" fill="#cc7eee"/>
<circle cx="443.54" cy="264.00" r="1.3" fill="#cc7eee"/>
<circle cx="445.59" cy="264.00" r="1.3" fill="#1414f0"/>
<circle cx="444.80" cy="265.44" r="1.3" fill="#1414f0"/>
<circle cx="443.47" cy="267.30" r="1.3" fill="#1414f0"/>
<circle cx="439.92" cy="271.30" r="1.3" fill="#cc7eee"/>
<circle cx="437.88" cy="273.90" r="1.3" fill="#1414f0"/>
<circle cx="445.95" cy="276.50" r="1.3" fill="#cc7eee"/>
<circle cx="438.99" cy="277.24" r="1.3" fill="#1414f0"/>
<circle cx="439.58" cy="278.30" r="1.3" fill="#1414f0"/>
<circle cx="438.13" cy="278.95" r="1.3" fill="#1414f0"/>
<circle cx="446.13" cy="279.92" r="1.3" fill="#1414f0"/>
<circle cx="445.69" cy="281.00" r="1.3" fill="#cc7eee"/>
<circle cx="439.00" cy="283.93" r="1.3" fill="#1414f0"/>
<circle cx="436.71" cy="285.00" r="1.3" fill="#1414f0"/>
<circle cx="442.35" cy="291.07" r="1.3" fill="#1414f0"/>
<circle cx="437.31" cy="293.77" r="1.3" fill="#1414f0"/>
<circle cx="442.88" cy="295.50" r="1.3" fill="#1414f0"/>
<circle cx="459.99" cy="231.70" r="1.3" fill="#cc7eee"/>
<circle cx="460.80" cy="248.70" r="1.3" fill="#cc7eee"/>
<circle cx="459.73" cy="253.60" r="1.3" fill="#1414f0"/>
<circle cx="463.01" cy="256.80" r="1.3" fill="#cc7eee"/>
<circle cx="456.77" cy="259.65" r="1.3" fill="#1414f0"/>
<circle cx="455.41" cy="262.70" r="1.3" fill="#cc7eee"/>
<circle cx="462.82" cy="267.35" r="1.3" fill="#1414f0"/>
<circle cx="457.98" cy="267.58" r="1.3" fill="#1414f0"/>
<circle cx="459.33" cy="267.99" r="1.3" fill="#1414f0"/>
<circle cx="455.41" cy="268.27" r="1.3" fill="#cc7eee"/>
<circle cx="461.39" cy="268.63" r="1.3" fill="#1414f0"/>
<circle cx="455.48" cy="268.88" r="1.3" fill="#1414f0"/>
<circle cx="458.12" cy="269.30" r="1.3" fill="#cc7eee"/>
<circle cx="459.28" cy="273.94" r="1.3" fill="#cc7eee"/>
<circle cx="456.32" cy="275.57" r="1.3" fill="#cc7eee"/>
<circle cx="459.93" cy="280.40" r="1.3" fill="#1414f0"/>
<circle cx="464.83" cy="285.00" r="1.3" fill="#cc7eee"/>
<circle cx="456.48" cy="286.40" r="1.3" fill="#1414f0"/>
<circle cx="461.67" cy="287.90" r="1.3" fill="#cc7eee"/>
<circle cx="457.70" cy="292.90" r="1.3" fill="#1414f0"/>
<circle cx="461.74" cy="294.24" r="1.3" fill="#cc7eee"/>
<circle cx="479.49" cy="250.95" r="1.3" fill="#1414f0"/>
<circle cx="475.75" cy="251.72" r="1.3" fill="#1414f0"/>
<circle cx="474.65" cy="252.30" r="1.3" fill="#1414f0"/>
<circle cx="475.97" cy="253.14" r="1.3" fill="#1414f0"/>
<circle cx="483.66" cy="254.03" r="1.3" fill="#1414f0"/>
<circle cx="479.84" cy="256.90" r="1.3" fill="#cc7eee"/>
<circle cx="475.51" cy="257.20" r="1.3" fill="#1414f0"/>
<circle cx="475.85" cy="260.33" r="1.3" fill="#1414f0"/>
<circle cx="477.18" cy="261.55" r="1.3" fill="#1414f0"/>
<circle cx="483.43" cy="263.03" r="1.3" fill="#1414f0"/>
<circle cx="478.63" cy="266.20" r="1.3" fill="#cc7eee"/>
<circle cx="474.85" cy="266.89" r="1.3" fill="#1414f0"/>
<circle cx="475.86" cy="267.30" r="1.3" fill="#1414f0"/>
<circle cx="480.83" cy="271.10" r="1.3" fill="#cc7eee"/>
<circle cx="483.45" cy="272.42" r="1.3" fill="#1414f0"/>
<circle cx="483.72" cy="275.07" r="1.3" fill="#1414f0"/>
<circle cx="477.13" cy="276.86" r="1.3" fill="#cc7eee"/>
<circle cx="483.48" cy="278.34" r="1.3" fill="#1414f0"/>
<circle cx="479.38" cy="279.10" r="1.3" fill="#1414f0"/>
<circle cx="483.59" cy="280.70" r="1.3" fill="#1414f0"/>
<circle cx="479.98" cy="283.70" r="1.3" fill="#1414f0"/>
<circle cx="478.71" cy="288.60" r="1.3" fill="#cc7eee"/>
<circle cx="478.62" cy="294.00" r="1.3" fill="#1414f0"/>
<circle cx="496.42" cy="248.70" r="1.3" fill="#1414f0"/>
<circle cx="496.32" cy="249.30" r="1.3" fill="#1414f0"/>
<circle cx="497.92" cy="253.60" r="1.3" fill="#cc7eee"/>
<circle cx="492.58" cy="253.81" r="1.3" fill="#cc7eee"/>
<circle cx="494.78" cy="254.20" r="1.3" fill="#cc7eee"/>
<circle cx="493.12" cy="257.06" r="1.3" fill="#cc7eee"/>
<circle cx="493.83" cy="258.08" r="1.3" fill="#1414f0"/>
<circle cx="493.43" cy="258.49" r="1.3" fill="#1414f0"/>
<circle cx="495.96" cy="259.60" r="1.3" fill="#cc7eee"/>
<circle cx="495.25" cy="266.60" r="1.3" fill="#cc7eee"/>
<circle cx="498.32" cy="268.78" r="1.3" fill="#cc7eee"/>
<circle cx="502.42" cy="271.70" r="1.3" fill="#1414f0"/>
<circle cx="499.34" cy="272.25" r="1.3" fill="#1414f0"/>
<circle cx="500.31" cy="272.91" r="1.3" fill="#1414f0"/>
<circle cx="496.37" cy="273.40" r="1.3" fill="#cc7eee"/>
<circle cx="494.45" cy="273.79" r="1.3" fill="#cc7eee"/>
<circle cx="502.36" cy="274.26" r="1.3" fill="#cc7eee"/>
<circle cx="500.29" cy="275.09" r="1.3" fill="#cc7eee"/>
<circle cx="500.27" cy="275.37" r="1.3" fill="#1414f0"/>
<circle cx="497.86" cy="288.00" r="1.3" fill="#cc7eee"/>
<circle cx="493.34" cy="292.40" r="1.3" fill="#1414f0"/>
<circle cx="494.47" cy="293.50" r="1.3" fill="#cc7eee"/>
<line x1="354.60" y1="301.70" x2="354.60" y2="284.60" stroke="#4a4a4a" stroke-width="1.1"/>
<line x1="351.40" y1="284.60" x2="357.80" y2="284.60" stroke="#4a4a4a" stroke-width="1.1"/>
<line x1="373.00" y1="303.70" x2="373.00" y2="286.60" stroke="#f27a6a" stroke-width="1.2"/>
<line x1="369.80" y1="286.60" x2="376.20" y2="286.60" stroke="#f27a6a" stroke-width="1.2"/>
<line x1="391.70" y1="301.40" x2="391.70" y2="290.50" stroke="#4a4a4a" stroke-width="1.1"/>
<line x1="388.50" y1="290.50" x2="394.90" y2="290.50" stroke="#4a4a4a" stroke-width="1.1"/>
<line x1="410.50" y1="320.50" x2="410.50" y2="313.00" stroke="#f27a6a" stroke-width="1.2"/>
<line x1="407.30" y1="313.00" x2="413.70" y2="313.00" stroke="#f27a6a" stroke-width="1.2"/>
<line x1="441.50" y1="270.70" x2="441.50" y2="253.00" stroke="#4a4a4a" stroke-width="1.1"/>
<line x1="438.30" y1="253.00" x2="444.70" y2="253.00" stroke="#4a4a4a" stroke-width="1.1"/>
<line x1="460.20" y1="272.00" x2="460.20" y2="256.00" stroke="#f27a6a" stroke-width="1.2"/>
<line x1="457.00" y1="256.00" x2="463.40" y2="256.00" stroke="#f27a6a" stroke-width="1.2"/>
<line x1="479.30" y1="268.70" x2="479.30" y2="255.40" stroke="#4a4a4a" stroke-width="1.1"/>
<line x1="476.10" y1="255.40" x2="482.50" y2="255.40" stroke="#4a4a4a" stroke-width="1.1"/>
<line x1="497.60" y1="271.20" x2="497.60" y2="255.40" stroke="#f27a6a" stroke-width="1.2"/>
<line x1="494.40" y1="255.40" x2="500.80" y2="255.40" stroke="#f27a6a" stroke-width="1.2"/>
<path d="M336.70,196.40 H342.00 V329.50 H509.80" fill="none" stroke="#000" stroke-width="1.8" stroke-linecap="butt" stroke-linejoin="miter"/>
<line x1="336.70" y1="329.50" x2="342.00" y2="329.50" stroke="#000" stroke-width="1.8"/>
<line x1="336.70" y1="296.23" x2="342.00" y2="296.23" stroke="#000" stroke-width="1.8"/>
<line x1="336.70" y1="262.95" x2="342.00" y2="262.95" stroke="#000" stroke-width="1.8"/>
<line x1="336.70" y1="229.68" x2="342.00" y2="229.68" stroke="#000" stroke-width="1.8"/>
<text x="333.70" y="334.10" font-size="14" text-anchor="end" >0</text>
<text x="333.70" y="300.83" font-size="14" text-anchor="end" >2</text>
<text x="333.70" y="267.55" font-size="14" text-anchor="end" >4</text>
<text x="333.70" y="234.28" font-size="14" text-anchor="end" >6</text>
<text x="333.70" y="201.00" font-size="14" text-anchor="end" >8</text>
<line x1="382.55" y1="329.50" x2="382.55" y2="335.10" stroke="#000" stroke-width="1.8"/>
<line x1="469.55" y1="329.50" x2="469.55" y2="335.10" stroke="#000" stroke-width="1.8"/>
<text x="382.55" y="350.10" font-size="14.8" text-anchor="middle" >(-) OM</text>
<text x="469.55" y="350.10" font-size="14.8" text-anchor="middle" >(+) OM</text>
<text x="0" y="0" font-size="16" text-anchor="middle" transform="translate(318.60,261.00) rotate(-90)">-dL/dt (µm/s)</text>
<text x="282.60" y="200.30" font-size="18" text-anchor="start" >C</text>
<text x="400.80" y="230.80" font-size="14" text-anchor="middle" >&lt;0.0001</text>
<path d="M391.90,279.60 V237.80 H410.40 V307.60" fill="none" stroke="#000" stroke-width="1.6" stroke-linecap="butt" stroke-linejoin="miter"/>
<text x="474.40" y="217.00" font-size="14" text-anchor="middle" >&lt;0.05</text>
<line x1="436.70" y1="226.00" x2="503.10" y2="226.00" stroke="#000" stroke-width="2.0"/>
<line x1="436.70" y1="222.70" x2="436.70" y2="229.70" stroke="#000" stroke-width="2.0"/>
<line x1="503.10" y1="222.70" x2="503.10" y2="229.70" stroke="#000" stroke-width="2.0"/>
<rect x="81.95" y="453.00" width="11.00" height="65.00" fill="#fff" stroke="#000" stroke-width="1.8"/>
<rect x="100.40" y="457.20" width="11.00" height="60.80" fill="#fff" stroke="#ff0000" stroke-width="1.8"/>
<pattern id="pD2" patternUnits="userSpaceOnUse" width="5.4" height="5.3" x="120.45" y="518.00"><circle cx="0.00" cy="0.00" r="0.76" fill="#000"/><circle cx="5.40" cy="0.00" r="0.76" fill="#000"/><circle cx="0.00" cy="5.30" r="0.76" fill="#000"/><circle cx="5.40" cy="5.30" r="0.76" fill="#000"/><circle cx="2.70" cy="2.65" r="0.76" fill="#000"/></pattern>
<rect x="119.00" y="448.90" width="11.00" height="69.10" fill="url(#pD2)" stroke="#000" stroke-width="1.8"/>
<pattern id="pD3" patternUnits="userSpaceOnUse" width="5.4" height="5.3" x="139.15" y="518.00"><circle cx="0.00" cy="0.00" r="0.76" fill="#000"/><circle cx="5.40" cy="0.00" r="0.76" fill="#000"/><circle cx="0.00" cy="5.30" r="0.76" fill="#000"/><circle cx="5.40" cy="5.30" r="0.76" fill="#000"/><circle cx="2.70" cy="2.65" r="0.76" fill="#000"/></pattern>
<rect x="137.70" y="491.70" width="11.00" height="26.30" fill="url(#pD3)" stroke="#ff0000" stroke-width="1.8"/>
<rect x="168.50" y="457.80" width="11.00" height="60.20" fill="#fff" stroke="#000" stroke-width="1.8"/>
<rect x="186.95" y="449.10" width="11.00" height="68.90" fill="#fff" stroke="#ff0000" stroke-width="1.8"/>
<pattern id="pD6" patternUnits="userSpaceOnUse" width="5.4" height="5.3" x="207.35" y="518.00"><circle cx="0.00" cy="0.00" r="0.76" fill="#000"/><circle cx="5.40" cy="0.00" r="0.76" fill="#000"/><circle cx="0.00" cy="5.30" r="0.76" fill="#000"/><circle cx="5.40" cy="5.30" r="0.76" fill="#000"/><circle cx="2.70" cy="2.65" r="0.76" fill="#000"/></pattern>
<rect x="205.90" y="457.80" width="11.00" height="60.20" fill="url(#pD6)" stroke="#000" stroke-width="1.8"/>
<pattern id="pD7" patternUnits="userSpaceOnUse" width="5.4" height="5.3" x="225.80" y="518.00"><circle cx="0.00" cy="0.00" r="0.76" fill="#000"/><circle cx="5.40" cy="0.00" r="0.76" fill="#000"/><circle cx="0.00" cy="5.30" r="0.76" fill="#000"/><circle cx="5.40" cy="5.30" r="0.76" fill="#000"/><circle cx="2.70" cy="2.65" r="0.76" fill="#000"/></pattern>
<rect x="224.35" y="503.10" width="11.00" height="14.90" fill="url(#pD7)" stroke="#ff0000" stroke-width="1.8"/>
<circle cx="87.09" cy="428.50" r="1.3" fill="#1414f0"/>
<circle cx="85.87" cy="435.30" r="1.3" fill="#cc7eee"/>
<circle cx="82.66" cy="438.30" r="1.3" fill="#cc7eee"/>
<circle cx="82.48" cy="441.55" r="1.3" fill="#1414f0"/>
<circle cx="83.19" cy="442.74" r="1.3" fill="#1414f0"/>
<circle cx="82.66" cy="444.13" r="1.3" fill="#1414f0"/>
<circle cx="89.72" cy="445.64" r="1.3" fill="#1414f0"/>
<circle cx="88.24" cy="447.30" r="1.3" fill="#1414f0"/>
<circle cx="86.77" cy="448.26" r="1.3" fill="#1414f0"/>
<circle cx="85.21" cy="449.89" r="1.3" fill="#1414f0"/>
<circle cx="82.72" cy="451.30" r="1.3" fill="#1414f0"/>
<circle cx="88.43" cy="452.10" r="1.3" fill="#cc7eee"/>
<circle cx="87.61" cy="452.79" r="1.3" fill="#cc7eee"/>
<circle cx="83.83" cy="453.33" r="1.3" fill="#1414f0"/>
<circle cx="92.10" cy="454.13" r="1.3" fill="#1414f0"/>
<circle cx="83.91" cy="454.59" r="1.3" fill="#cc7eee"/>
<circle cx="90.28" cy="455.40" r="1.3" fill="#1414f0"/>
<circle cx="86.40" cy="457.20" r="1.3" fill="#cc7eee"/>
<circle cx="91.59" cy="458.08" r="1.3" fill="#1414f0"/>
<circle cx="91.57" cy="458.85" r="1.3" fill="#cc7eee"/>
<circle cx="84.33" cy="459.75" r="1.3" fill="#1414f0"/>
<circle cx="91.70" cy="460.83" r="1.3" fill="#cc7eee"/>
<circle cx="86.17" cy="461.90" r="1.3" fill="#cc7eee"/>
<circle cx="85.58" cy="467.72" r="1.3" fill="#cc7eee"/>
<circle cx="88.40" cy="470.80" r="1.3" fill="#cc7eee"/>
<circle cx="87.66" cy="475.50" r="1.3" fill="#1414f0"/>
<circle cx="105.03" cy="425.30" r="1.3" fill="#cc7eee"/>
<circle cx="107.62" cy="429.98" r="1.3" fill="#cc7eee"/>
<circle cx="108.80" cy="447.20" r="1.3" fill="#1414f0"/>
<circle cx="101.94" cy="448.84" r="1.3" fill="#1414f0"/>
<circle cx="109.98" cy="450.30" r="1.3" fill="#1414f0"/>
<circle cx="102.63" cy="451.65" r="1.3" fill="#1414f0"/>
<circle cx="105.50" cy="453.60" r="1.3" fill="#cc7eee"/>
<circle cx="106.31" cy="456.60" r="1.3" fill="#1414f0"/>
<circle cx="104.08" cy="457.80" r="1.3" fill="#1414f0"/>
<circle cx="110.94" cy="458.35" r="1.3" fill="#cc7eee"/>
<circle cx="101.68" cy="459.24" r="1.3" fill="#cc7eee"/>
<circle cx="101.68" cy="460.00" r="1.3" fill="#cc7eee"/>
<circle cx="111.03" cy="460.44" r="1.3" fill="#cc7eee"/>
<circle cx="108.37" cy="461.28" r="1.3" fill="#1414f0"/>
<circle cx="102.68" cy="461.80" r="1.3" fill="#cc7eee"/>
<circle cx="101.73" cy="462.50" r="1.3" fill="#cc7eee"/>
<circle cx="100.73" cy="467.20" r="1.3" fill="#cc7eee"/>
<circle cx="105.23" cy="468.29" r="1.3" fill="#cc7eee"/>
<circle cx="111.00" cy="468.85" r="1.3" fill="#1414f0"/>
<circle cx="105.49" cy="476.70" r="1.3" fill="#cc7eee"/>
<circle cx="125.60" cy="439.60" r="1.3" fill="#1414f0"/>
<circle cx="127.05" cy="440.35" r="1.3" fill="#1414f0"/>
<circle cx="125.32" cy="442.00" r="1.3" fill="#cc7eee"/>
<circle cx="125.43" cy="444.50" r="1.3" fill="#1414f0"/>
<circle cx="128.17" cy="445.20" r="1.3" fill="#1414f0"/>
<circle cx="126.63" cy="446.00" r="1.3" fill="#1414f0"/>
<circle cx="121.77" cy="446.71" r="1.3" fill="#1414f0"/>
<circle cx="126.75" cy="447.11" r="1.3" fill="#cc7eee"/>
<circle cx="128.20" cy="447.60" r="1.3" fill="#cc7eee"/>
<circle cx="119.41" cy="448.28" r="1.3" fill="#1414f0"/>
<circle cx="124.69" cy="448.98" r="1.3" fill="#1414f0"/>
<circle cx="128.45" cy="449.48" r="1.3" fill="#cc7eee"/>
<circle cx="122.68" cy="450.00" r="1.3" fill="#1414f0"/>
<circle cx="124.45" cy="454.00" r="1.3" fill="#cc7eee"/>
<circle cx="122.19" cy="457.20" r="1.3" fill="#1414f0"/>
<circle cx="124.59" cy="469.10" r="1.3" fill="#cc7eee"/>
<circle cx="138.97" cy="475.54" r="1.3" fill="#cc7eee"/>
<circle cx="143.63" cy="478.84" r="1.3" fill="#cc7eee"/>
<circle cx="143.33" cy="481.90" r="1.3" fill="#cc7eee"/>
<circle cx="142.25" cy="481.91" r="1.3" fill="#1414f0"/>
<circle cx="140.13" cy="482.70" r="1.3" fill="#1414f0"/>
<circle cx="138.55" cy="484.30" r="1.3" fill="#1414f0"/>
<circle cx="147.60" cy="485.09" r="1.3" fill="#cc7eee"/>
<circle cx="145.05" cy="486.52" r="1.3" fill="#cc7eee"/>
<circle cx="139.06" cy="487.55" r="1.3" fill="#1414f0"/>
<circle cx="142.15" cy="488.44" r="1.3" fill="#cc7eee"/>
<circle cx="148.20" cy="489.92" r="1.3" fill="#1414f0"/>
<circle cx="148.09" cy="491.02" r="1.3" fill="#cc7eee"/>
<circle cx="139.64" cy="491.74" r="1.3" fill="#1414f0"/>
<circle cx="138.63" cy="493.11" r="1.3" fill="#cc7eee"/>
<circle cx="139.95" cy="493.90" r="1.3" fill="#1414f0"/>
<circle cx="139.45" cy="495.65" r="1.3" fill="#1414f0"/>
<circle cx="146.71" cy="496.30" r="1.3" fill="#1414f0"/>
<circle cx="141.02" cy="498.70" r="1.3" fill="#cc7eee"/>
<circle cx="139.23" cy="500.30" r="1.3" fill="#cc7eee"/>
<circle cx="140.34" cy="505.48" r="1.3" fill="#cc7eee"/>
<circle cx="145.19" cy="508.20" r="1.3" fill="#cc7eee"/>
<circle cx="145.10" cy="510.70" r="1.3" fill="#cc7eee"/>
<circle cx="176.35" cy="438.20" r="1.3" fill="#1414f0"/>
<circle cx="171.30" cy="439.42" r="1.3" fill="#cc7eee"/>
<circle cx="175.46" cy="446.50" r="1.3" fill="#1414f0"/>
<circle cx="172.54" cy="446.69" r="1.3" fill="#cc7eee"/>
<circle cx="177.76" cy="446.90" r="1.3" fill="#1414f0"/>
<circle cx="177.48" cy="446.98" r="1.3" fill="#cc7eee"/>
<circle cx="177.01" cy="447.20" r="1.3" fill="#1414f0"/>
<circle cx="168.86" cy="450.19" r="1.3" fill="#cc7eee"/>
<circle cx="178.79" cy="450.88" r="1.3" fill="#1414f0"/>
<circle cx="171.35" cy="452.30" r="1.3" fill="#1414f0"/>
<circle cx="170.32" cy="454.50" r="1.3" fill="#1414f0"/>
<circle cx="177.09" cy="455.22" r="1.3" fill="#cc7eee"/>
<circle cx="178.15" cy="455.55" r="1.3" fill="#cc7eee"/>
<circle cx="176.98" cy="456.29" r="1.3" fill="#cc7eee"/>
<circle cx="178.18" cy="456.89" r="1.3" fill="#1414f0"/>
<circle cx="177.59" cy="457.52" r="1.3" fill="#cc7eee"/>
<circle cx="176.04" cy="457.89" r="1.3" fill="#1414f0"/>
<circle cx="173.35" cy="462.60" r="1.3" fill="#cc7eee"/>
<circle cx="174.58" cy="463.36" r="1.3" fill="#1414f0"/>
<circle cx="171.18" cy="463.80" r="1.3" fill="#cc7eee"/>
<circle cx="169.32" cy="467.50" r="1.3" fill="#cc7eee"/>
<circle cx="170.23" cy="468.58" r="1.3" fill="#cc7eee"/>
<circle cx="173.98" cy="469.69" r="1.3" fill="#1414f0"/>
<circle cx="174.08" cy="474.80" r="1.3" fill="#1414f0"/>
<circle cx="191.55" cy="413.70" r="1.3" fill="#cc7eee"/>
<circle cx="192.44" cy="421.70" r="1.3" fill="#cc7eee"/>
<circle cx="191.59" cy="434.80" r="1.3" fill="#1414f0"/>
<circle cx="187.95" cy="435.25" r="1.3" fill="#cc7eee"/>
<circle cx="193.89" cy="435.50" r="1.3" fill="#1414f0"/>
<circle cx="194.39" cy="440.70" r="1.3" fill="#1414f0"/>
<circle cx="190.65" cy="442.43" r="1.3" fill="#cc7eee"/>
<circle cx="192.56" cy="443.50" r="1.3" fill="#1414f0"/>
<circle cx="188.68" cy="445.82" r="1.3" fill="#1414f0"/>
<circle cx="191.56" cy="446.36" r="1.3" fill="#1414f0"/>
<circle cx="195.40" cy="453.70" r="1.3" fill="#cc7eee"/>
<circle cx="196.82" cy="454.01" r="1.3" fill="#cc7eee"/>
<circle cx="190.77" cy="454.26" r="1.3" fill="#cc7eee"/>
<circle cx="187.71" cy="454.56" r="1.3" fill="#1414f0"/>
<circle cx="190.91" cy="454.86" r="1.3" fill="#cc7eee"/>
<circle cx="190.69" cy="455.20" r="1.3" fill="#cc7eee"/>
<circle cx="194.09" cy="460.71" r="1.3" fill="#1414f0"/>
<circle cx="190.66" cy="461.98" r="1.3" fill="#1414f0"/>
<circle cx="190.32" cy="463.01" r="1.3" fill="#cc7eee"/>
<circle cx="193.88" cy="464.60" r="1.3" fill="#1414f0"/>
<circle cx="193.02" cy="474.10" r="1.3" fill="#1414f0"/>
<circle cx="210.48" cy="444.80" r="1.3" fill="#1414f0"/>
<circle cx="206.59" cy="447.00" r="1.3" fill="#cc7eee"/>
<circle cx="211.14" cy="447.46" r="1.3" fill="#1414f0"/>
<circle cx="206.74" cy="447.83" r="1.3" fill="#1414f0"/>
<circle cx="211.86" cy="448.15" r="1.3" fill="#1414f0"/>
<circle cx="207.66" cy="448.50" r="1.3" fill="#1414f0"/>
<circle cx="213.40" cy="448.96" r="1.3" fill="#1414f0"/>
<circle cx="206.98" cy="449.30" r="1.3" fill="#1414f0"/>
<circle cx="207.94" cy="452.44" r="1.3" fill="#cc7eee"/>
<circle cx="215.31" cy="454.39" r="1.3" fill="#cc7eee"/>
<circle cx="207.17" cy="456.01" r="1.3" fill="#1414f0"/>
<circle cx="208.83" cy="459.95" r="1.3" fill="#cc7eee"/>
<circle cx="210.57" cy="461.07" r="1.3" fill="#1414f0"/>
<circle cx="210.67" cy="462.41" r="1.3" fill="#cc7eee"/>
<circle cx="216.00" cy="463.99" r="1.3" fill="#1414f0"/>
<circle cx="212.12" cy="464.85" r="1.3" fill="#1414f0"/>
<circle cx="210.56" cy="471.57" r="1.3" fill="#1414f0"/>
<circle cx="210.39" cy="473.71" r="1.3" fill="#cc7eee"/>
<circle cx="213.31" cy="475.12" r="1.3" fill="#1414f0"/>
<circle cx="211.59" cy="479.50" r="1.3" fill="#cc7eee"/>
<circle cx="230.84" cy="492.30" r="1.3" fill="#cc7eee"/>
<circle cx="228.92" cy="495.30" r="1.3" fill="#cc7eee"/>
<circle cx="231.38" cy="496.44" r="1.3" fill="#cc7eee"/>
<circle cx="226.16" cy="498.04" r="1.3" fill="#cc7eee"/>
<circle cx="227.12" cy="500.02" r="1.3" fill="#1414f0"/>
<circle cx="226.54" cy="500.90" r="1.3" fill="#1414f0"/>
<circle cx="232.75" cy="501.41" r="1.3" fill="#1414f0"/>
<circle cx="233.62" cy="502.64" r="1.3" fill="#1414f0"/>
<circle cx="225.44" cy="503.52" r="1.3" fill="#cc7eee"/>
<circle cx="232.07" cy="504.34" r="1.3" fill="#cc7eee"/>
<circle cx="234.43" cy="505.13" r="1.3" fill="#cc7eee"/>
<circle cx="234.77" cy="505.90" r="1.3" fill="#cc7eee"/>
<circle cx="224.67" cy="507.01" r="1.3" fill="#1414f0"/>
<circle cx="231.45" cy="507.52" r="1.3" fill="#cc7eee"/>
<circle cx="225.39" cy="508.82" r="1.3" fill="#cc7eee"/>
<circle cx="232.28" cy="509.43" r="1.3" fill="#1414f0"/>
<circle cx="233.68" cy="510.22" r="1.3" fill="#1414f0"/>
<line x1="87.45" y1="453.00" x2="87.45" y2="441.50" stroke="#4a4a4a" stroke-width="1.1"/>
<line x1="84.25" y1="441.50" x2="90.65" y2="441.50" stroke="#4a4a4a" stroke-width="1.1"/>
<line x1="105.90" y1="457.20" x2="105.90" y2="445.30" stroke="#f27a6a" stroke-width="1.2"/>
<line x1="102.70" y1="445.30" x2="109.10" y2="445.30" stroke="#f27a6a" stroke-width="1.2"/>
<line x1="124.50" y1="448.90" x2="124.50" y2="445.70" stroke="#4a4a4a" stroke-width="1.1"/>
<line x1="121.30" y1="445.70" x2="127.70" y2="445.70" stroke="#4a4a4a" stroke-width="1.1"/>
<line x1="143.20" y1="491.70" x2="143.20" y2="482.30" stroke="#f27a6a" stroke-width="1.2"/>
<line x1="140.00" y1="482.30" x2="146.40" y2="482.30" stroke="#f27a6a" stroke-width="1.2"/>
<line x1="174.00" y1="457.80" x2="174.00" y2="446.40" stroke="#4a4a4a" stroke-width="1.1"/>
<line x1="170.80" y1="446.40" x2="177.20" y2="446.40" stroke="#4a4a4a" stroke-width="1.1"/>
<line x1="192.45" y1="449.10" x2="192.45" y2="434.90" stroke="#f27a6a" stroke-width="1.2"/>
<line x1="189.25" y1="434.90" x2="195.65" y2="434.90" stroke="#f27a6a" stroke-width="1.2"/>
<line x1="211.40" y1="457.80" x2="211.40" y2="447.70" stroke="#4a4a4a" stroke-width="1.1"/>
<line x1="208.20" y1="447.70" x2="214.60" y2="447.70" stroke="#4a4a4a" stroke-width="1.1"/>
<line x1="229.85" y1="503.10" x2="229.85" y2="498.20" stroke="#f27a6a" stroke-width="1.2"/>
<line x1="226.65" y1="498.20" x2="233.05" y2="498.20" stroke="#f27a6a" stroke-width="1.2"/>
<path d="M69.60,384.00 H74.90 V518.00 H241.60" fill="none" stroke="#000" stroke-width="1.8" stroke-linecap="butt" stroke-linejoin="miter"/>
<line x1="69.60" y1="518.00" x2="74.90" y2="518.00" stroke="#000" stroke-width="1.8"/>
<line x1="69.60" y1="484.50" x2="74.90" y2="484.50" stroke="#000" stroke-width="1.8"/>
<line x1="69.60" y1="451.00" x2="74.90" y2="451.00" stroke="#000" stroke-width="1.8"/>
<line x1="69.60" y1="417.50" x2="74.90" y2="417.50" stroke="#000" stroke-width="1.8"/>
<text x="66.60" y="522.60" font-size="14" text-anchor="end" >0.0</text>
<text x="66.60" y="489.10" font-size="14" text-anchor="end" >0.5</text>
<text x="66.60" y="455.60" font-size="14" text-anchor="end" >1.0</text>
<text x="66.60" y="422.10" font-size="14" text-anchor="end" >1.5</text>
<text x="66.60" y="388.60" font-size="14" text-anchor="end" >2.0</text>
<line x1="115.32" y1="518.00" x2="115.32" y2="523.60" stroke="#000" stroke-width="1.8"/>
<line x1="201.93" y1="518.00" x2="201.93" y2="523.60" stroke="#000" stroke-width="1.8"/>
<text x="115.32" y="537.80" font-size="14.8" text-anchor="middle" >(-) OM</text>
<text x="201.93" y="537.80" font-size="14.8" text-anchor="middle" >(+) OM</text>
<text x="0" y="0" font-size="14.8" text-anchor="middle" transform="translate(39.90,447.20) rotate(-90)">Peak (340/380 ratio)</text>
<text x="7.50" y="378.00" font-size="18" text-anchor="start" >D</text>
<text x="133.20" y="410.70" font-size="14" text-anchor="middle" >&lt;0.0001</text>
<path d="M124.40,434.20 V418.70 H143.10 V475.00" fill="none" stroke="#000" stroke-width="1.6" stroke-linecap="butt" stroke-linejoin="miter"/>
<text x="220.00" y="410.90" font-size="14" text-anchor="middle" >&lt;0.0001</text>
<path d="M210.80,439.50 V418.50 H229.60 V491.40" fill="none" stroke="#000" stroke-width="1.6" stroke-linecap="butt" stroke-linejoin="miter"/>
<rect x="348.35" y="484.50" width="10.00" height="33.50" fill="#fff" stroke="#000" stroke-width="1.8"/>
<rect x="365.35" y="484.50" width="10.00" height="33.50" fill="#fff" stroke="#ff0000" stroke-width="1.8"/>
<pattern id="pE2" patternUnits="userSpaceOnUse" width="5.4" height="5.3" x="383.30" y="518.00"><circle cx="0.00" cy="0.00" r="0.76" fill="#000"/><circle cx="5.40" cy="0.00" r="0.76" fill="#000"/><circle cx="0.00" cy="5.30" r="0.76" fill="#000"/><circle cx="5.40" cy="5.30" r="0.76" fill="#000"/><circle cx="2.70" cy="2.65" r="0.76" fill="#000"/></pattern>
<rect x="382.35" y="480.60" width="10.00" height="37.40" fill="url(#pE2)" stroke="#000" stroke-width="1.8"/>
<pattern id="pE3" patternUnits="userSpaceOnUse" width="5.4" height="5.3" x="400.10" y="518.00"><circle cx="0.00" cy="0.00" r="0.76" fill="#000"/><circle cx="5.40" cy="0.00" r="0.76" fill="#000"/><circle cx="0.00" cy="5.30" r="0.76" fill="#000"/><circle cx="5.40" cy="5.30" r="0.76" fill="#000"/><circle cx="2.70" cy="2.65" r="0.76" fill="#000"/></pattern>
<rect x="399.15" y="455.90" width="10.00" height="62.10" fill="url(#pE3)" stroke="#ff0000" stroke-width="1.8"/>
<rect x="427.30" y="487.00" width="10.00" height="31.00" fill="#fff" stroke="#000" stroke-width="1.8"/>
<rect x="444.45" y="489.60" width="10.00" height="28.40" fill="#fff" stroke="#ff0000" stroke-width="1.8"/>
<pattern id="pE6" patternUnits="userSpaceOnUse" width="5.4" height="5.3" x="462.35" y="518.00"><circle cx="0.00" cy="0.00" r="0.76" fill="#000"/><circle cx="5.40" cy="0.00" r="0.76" fill="#000"/><circle cx="0.00" cy="5.30" r="0.76" fill="#000"/><circle cx="5.40" cy="5.30" r="0.76" fill="#000"/><circle cx="2.70" cy="2.65" r="0.76" fill="#000"/></pattern>
<rect x="461.40" y="480.60" width="10.00" height="37.40" fill="url(#pE6)" stroke="#000" stroke-width="1.8"/>
<pattern id="pE7" patternUnits="userSpaceOnUse" width="5.4" height="5.3" x="479.05" y="518.00"><circle cx="0.00" cy="0.00" r="0.76" fill="#000"/><circle cx="5.40" cy="0.00" r="0.76" fill="#000"/><circle cx="0.00" cy="5.30" r="0.76" fill="#000"/><circle cx="5.40" cy="5.30" r="0.76" fill="#000"/><circle cx="2.70" cy="2.65" r="0.76" fill="#000"/></pattern>
<rect x="478.10" y="466.60" width="10.00" height="51.40" fill="url(#pE7)" stroke="#ff0000" stroke-width="1.8"/>
<circle cx="355.54" cy="472.05" r="1.3" fill="#cc7eee"/>
<circle cx="350.15" cy="473.25" r="1.3" fill="#1414f0"/>
<circle cx="349.67" cy="475.43" r="1.3" fill="#1414f0"/>
<circle cx="350.12" cy="477.10" r="1.3" fill="#1414f0"/>
<circle cx="353.13" cy="478.62" r="1.3" fill="#cc7eee"/>
<circle cx="352.90" cy="480.00" r="1.3" fill="#cc7eee"/>
<circle cx="354.32" cy="480.71" r="1.3" fill="#1414f0"/>
<circle cx="352.66" cy="481.45" r="1.3" fill="#cc7eee"/>
<circle cx="352.17" cy="482.89" r="1.3" fill="#1414f0"/>
<circle cx="354.33" cy="483.83" r="1.3" fill="#cc7eee"/>
<circle cx="356.30" cy="485.03" r="1.3" fill="#cc7eee"/>
<circle cx="348.57" cy="485.71" r="1.3" fill="#1414f0"/>
<circle cx="352.61" cy="486.77" r="1.3" fill="#1414f0"/>
<circle cx="356.38" cy="488.05" r="1.3" fill="#cc7eee"/>
<circle cx="348.96" cy="489.31" r="1.3" fill="#1414f0"/>
<circle cx="356.34" cy="490.34" r="1.3" fill="#cc7eee"/>
<circle cx="354.04" cy="491.20" r="1.3" fill="#1414f0"/>
<circle cx="353.20" cy="491.24" r="1.3" fill="#cc7eee"/>
<circle cx="356.11" cy="492.64" r="1.3" fill="#1414f0"/>
<circle cx="357.98" cy="494.51" r="1.3" fill="#1414f0"/>
<circle cx="349.10" cy="495.67" r="1.3" fill="#1414f0"/>
<circle cx="355.35" cy="497.30" r="1.3" fill="#1414f0"/>
<circle cx="371.20" cy="427.50" r="1.3" fill="#cc7eee"/>
<circle cx="370.52" cy="450.60" r="1.3" fill="#cc7eee"/>
<circle cx="369.37" cy="477.00" r="1.3" fill="#cc7eee"/>
<circle cx="370.12" cy="481.40" r="1.3" fill="#1414f0"/>
<circle cx="371.21" cy="484.00" r="1.3" fill="#1414f0"/>
<circle cx="367.40" cy="484.67" r="1.3" fill="#cc7eee"/>
<circle cx="372.28" cy="485.48" r="1.3" fill="#cc7eee"/>
<circle cx="370.97" cy="486.39" r="1.3" fill="#1414f0"/>
<circle cx="370.52" cy="487.22" r="1.3" fill="#1414f0"/>
<circle cx="365.98" cy="487.92" r="1.3" fill="#1414f0"/>
<circle cx="369.14" cy="489.15" r="1.3" fill="#cc7eee"/>
<circle cx="371.62" cy="489.53" r="1.3" fill="#cc7eee"/>
<circle cx="367.05" cy="490.69" r="1.3" fill="#1414f0"/>
<circle cx="368.86" cy="491.41" r="1.3" fill="#cc7eee"/>
<circle cx="365.75" cy="492.19" r="1.3" fill="#1414f0"/>
<circle cx="375.06" cy="492.77" r="1.3" fill="#cc7eee"/>
<circle cx="367.60" cy="496.55" r="1.3" fill="#1414f0"/>
<circle cx="368.24" cy="497.40" r="1.3" fill="#1414f0"/>
<circle cx="386.54" cy="458.30" r="1.3" fill="#1414f0"/>
<circle cx="387.24" cy="470.40" r="1.3" fill="#1414f0"/>
<circle cx="383.04" cy="473.80" r="1.3" fill="#1414f0"/>
<circle cx="390.91" cy="474.89" r="1.3" fill="#1414f0"/>
<circle cx="391.64" cy="475.88" r="1.3" fill="#1414f0"/>
<circle cx="383.17" cy="477.23" r="1.3" fill="#1414f0"/>
<circle cx="386.37" cy="478.08" r="1.3" fill="#cc7eee"/>
<circle cx="391.76" cy="478.84" r="1.3" fill="#1414f0"/>
<circle cx="387.97" cy="479.98" r="1.3" fill="#1414f0"/>
<circle cx="391.73" cy="481.28" r="1.3" fill="#1414f0"/>
<circle cx="386.32" cy="482.35" r="1.3" fill="#1414f0"/>
<circle cx="384.08" cy="483.27" r="1.3" fill="#cc7eee"/>
<circle cx="391.59" cy="487.70" r="1.3" fill="#1414f0"/>
<circle cx="383.12" cy="491.49" r="1.3" fill="#cc7eee"/>
<circle cx="382.82" cy="493.70" r="1.3" fill="#1414f0"/>
<circle cx="404.28" cy="425.40" r="1.3" fill="#cc7eee"/>
<circle cx="406.66" cy="426.20" r="1.3" fill="#cc7eee"/>
<circle cx="402.40" cy="433.20" r="1.3" fill="#cc7eee"/>
<circle cx="401.26" cy="434.71" r="1.3" fill="#cc7eee"/>
<circle cx="405.01" cy="437.50" r="1.3" fill="#cc7eee"/>
<circle cx="404.03" cy="444.40" r="1.3" fill="#1414f0"/>
<circle cx="404.46" cy="447.90" r="1.3" fill="#cc7eee"/>
<circle cx="404.09" cy="451.30" r="1.3" fill="#1414f0"/>
<circle cx="402.95" cy="459.10" r="1.3" fill="#1414f0"/>
<circle cx="403.59" cy="460.31" r="1.3" fill="#cc7eee"/>
<circle cx="408.13" cy="461.70" r="1.3" fill="#cc7eee"/>
<circle cx="400.86" cy="466.36" r="1.3" fill="#1414f0"/>
<circle cx="400.10" cy="468.44" r="1.3" fill="#1414f0"/>
<circle cx="402.93" cy="470.21" r="1.3" fill="#1414f0"/>
<circle cx="406.82" cy="472.10" r="1.3" fill="#1414f0"/>
<circle cx="403.58" cy="475.59" r="1.3" fill="#cc7eee"/>
<circle cx="402.03" cy="477.20" r="1.3" fill="#cc7eee"/>
<circle cx="429.75" cy="469.10" r="1.3" fill="#1414f0"/>
<circle cx="431.01" cy="469.64" r="1.3" fill="#1414f0"/>
<circle cx="428.89" cy="476.22" r="1.3" fill="#1414f0"/>
<circle cx="430.06" cy="477.06" r="1.3" fill="#1414f0"/>
<circle cx="428.99" cy="477.56" r="1.3" fill="#1414f0"/>
<circle cx="435.56" cy="478.20" r="1.3" fill="#cc7eee"/>
<circle cx="429.11" cy="478.93" r="1.3" fill="#1414f0"/>
<circle cx="430.55" cy="479.70" r="1.3" fill="#cc7eee"/>
<circle cx="428.60" cy="480.57" r="1.3" fill="#1414f0"/>
<circle cx="428.05" cy="481.10" r="1.3" fill="#cc7eee"/>
<circle cx="435.52" cy="489.00" r="1.3" fill="#cc7eee"/>
<circle cx="434.75" cy="489.00" r="1.3" fill="#cc7eee"/>
<circle cx="431.65" cy="489.00" r="1.3" fill="#cc7eee"/>
<circle cx="436.38" cy="497.15" r="1.3" fill="#1414f0"/>
<circle cx="430.28" cy="497.84" r="1.3" fill="#1414f0"/>
<circle cx="433.64" cy="499.60" r="1.3" fill="#cc7eee"/>
<circle cx="432.37" cy="500.05" r="1.3" fill="#cc7eee"/>
<circle cx="431.75" cy="500.54" r="1.3" fill="#cc7eee"/>
<circle cx="436.56" cy="501.00" r="1.3" fill="#cc7eee"/>
<circle cx="431.87" cy="505.20" r="1.3" fill="#1414f0"/>
<circle cx="451.51" cy="451.60" r="1.3" fill="#cc7eee"/>
<circle cx="449.81" cy="456.09" r="1.3" fill="#cc7eee"/>
<circle cx="446.86" cy="481.13" r="1.3" fill="#cc7eee"/>
<circle cx="450.42" cy="482.83" r="1.3" fill="#cc7eee"/>
<circle cx="453.19" cy="485.40" r="1.3" fill="#cc7eee"/>
<circle cx="451.68" cy="488.20" r="1.3" fill="#1414f0"/>
<circle cx="451.58" cy="489.06" r="1.3" fill="#cc7eee"/>
<circle cx="452.43" cy="489.78" r="1.3" fill="#1414f0"/>
<circle cx="452.73" cy="490.84" r="1.3" fill="#1414f0"/>
<circle cx="449.38" cy="492.04" r="1.3" fill="#1414f0"/>
<circle cx="453.39" cy="492.48" r="1.3" fill="#cc7eee"/>
<circle cx="453.02" cy="493.64" r="1.3" fill="#1414f0"/>
<circle cx="446.44" cy="494.44" r="1.3" fill="#1414f0"/>
<circle cx="448.17" cy="495.65" r="1.3" fill="#1414f0"/>
<circle cx="448.21" cy="496.20" r="1.3" fill="#1414f0"/>
<circle cx="444.69" cy="497.34" r="1.3" fill="#1414f0"/>
<circle cx="448.93" cy="498.20" r="1.3" fill="#cc7eee"/>
<circle cx="449.48" cy="501.70" r="1.3" fill="#1414f0"/>
<circle cx="448.69" cy="510.20" r="1.3" fill="#cc7eee"/>
<circle cx="469.91" cy="463.58" r="1.3" fill="#1414f0"/>
<circle cx="468.43" cy="464.99" r="1.3" fill="#1414f0"/>
<circle cx="462.63" cy="473.40" r="1.3" fill="#1414f0"/>
<circle cx="465.89" cy="476.13" r="1.3" fill="#1414f0"/>
<circle cx="469.32" cy="477.52" r="1.3" fill="#1414f0"/>
<circle cx="464.59" cy="480.30" r="1.3" fill="#1414f0"/>
<circle cx="470.77" cy="480.99" r="1.3" fill="#1414f0"/>
<circle cx="470.49" cy="481.45" r="1.3" fill="#cc7eee"/>
<circle cx="464.11" cy="482.41" r="1.3" fill="#1414f0"/>
<circle cx="467.71" cy="483.12" r="1.3" fill="#cc7eee"/>
<circle cx="463.89" cy="483.64" r="1.3" fill="#1414f0"/>
<circle cx="464.97" cy="484.31" r="1.3" fill="#1414f0"/>
<circle cx="463.32" cy="484.84" r="1.3" fill="#1414f0"/>
<circle cx="465.95" cy="491.80" r="1.3" fill="#1414f0"/>
<circle cx="466.33" cy="494.60" r="1.3" fill="#cc7eee"/>
<circle cx="479.47" cy="445.50" r="1.3" fill="#1414f0"/>
<circle cx="483.50" cy="446.73" r="1.3" fill="#cc7eee"/>
<circle cx="480.48" cy="447.34" r="1.3" fill="#cc7eee"/>
<circle cx="486.23" cy="450.90" r="1.3" fill="#1414f0"/>
<circle cx="482.03" cy="452.33" r="1.3" fill="#1414f0"/>
<circle cx="486.36" cy="453.11" r="1.3" fill="#cc7eee"/>
<circle cx="482.10" cy="454.30" r="1.3" fill="#cc7eee"/>
<circle cx="483.98" cy="458.40" r="1.3" fill="#cc7eee"/>
<circle cx="483.65" cy="461.80" r="1.3" fill="#1414f0"/>
<circle cx="481.52" cy="468.70" r="1.3" fill="#1414f0"/>
<circle cx="487.72" cy="470.96" r="1.3" fill="#cc7eee"/>
<circle cx="487.06" cy="473.40" r="1.3" fill="#cc7eee"/>
<circle cx="487.27" cy="477.18" r="1.3" fill="#1414f0"/>
<circle cx="482.35" cy="477.97" r="1.3" fill="#cc7eee"/>
<circle cx="481.80" cy="479.65" r="1.3" fill="#1414f0"/>
<circle cx="478.96" cy="480.94" r="1.3" fill="#1414f0"/>
<circle cx="483.15" cy="482.23" r="1.3" fill="#1414f0"/>
<circle cx="479.64" cy="483.26" r="1.3" fill="#cc7eee"/>
<circle cx="485.76" cy="485.42" r="1.3" fill="#cc7eee"/>
<circle cx="484.38" cy="486.40" r="1.3" fill="#cc7eee"/>
<line x1="353.35" y1="484.50" x2="353.35" y2="475.50" stroke="#4a4a4a" stroke-width="1.1"/>
<line x1="350.15" y1="475.50" x2="356.55" y2="475.50" stroke="#4a4a4a" stroke-width="1.1"/>
<line x1="370.35" y1="484.50" x2="370.35" y2="468.70" stroke="#f27a6a" stroke-width="1.2"/>
<line x1="367.15" y1="468.70" x2="373.55" y2="468.70" stroke="#f27a6a" stroke-width="1.2"/>
<line x1="387.35" y1="480.60" x2="387.35" y2="469.70" stroke="#4a4a4a" stroke-width="1.1"/>
<line x1="384.15" y1="469.70" x2="390.55" y2="469.70" stroke="#4a4a4a" stroke-width="1.1"/>
<line x1="404.15" y1="455.90" x2="404.15" y2="436.60" stroke="#f27a6a" stroke-width="1.2"/>
<line x1="400.95" y1="436.60" x2="407.35" y2="436.60" stroke="#f27a6a" stroke-width="1.2"/>
<line x1="432.30" y1="487.00" x2="432.30" y2="476.30" stroke="#4a4a4a" stroke-width="1.1"/>
<line x1="429.10" y1="476.30" x2="435.50" y2="476.30" stroke="#4a4a4a" stroke-width="1.1"/>
<line x1="449.45" y1="489.60" x2="449.45" y2="476.30" stroke="#f27a6a" stroke-width="1.2"/>
<line x1="446.25" y1="476.30" x2="452.65" y2="476.30" stroke="#f27a6a" stroke-width="1.2"/>
<line x1="466.40" y1="480.60" x2="466.40" y2="472.20" stroke="#4a4a4a" stroke-width="1.1"/>
<line x1="463.20" y1="472.20" x2="469.60" y2="472.20" stroke="#4a4a4a" stroke-width="1.1"/>
<line x1="483.10" y1="466.60" x2="483.10" y2="450.00" stroke="#f27a6a" stroke-width="1.2"/>
<line x1="479.90" y1="450.00" x2="486.30" y2="450.00" stroke="#f27a6a" stroke-width="1.2"/>
<path d="M336.90,395.80 H342.20 V518.00 H494.40" fill="none" stroke="#000" stroke-width="1.8" stroke-linecap="butt" stroke-linejoin="miter"/>
<line x1="336.90" y1="518.00" x2="342.20" y2="518.00" stroke="#000" stroke-width="1.8"/>
<line x1="336.90" y1="487.45" x2="342.20" y2="487.45" stroke="#000" stroke-width="1.8"/>
<line x1="336.90" y1="456.90" x2="342.20" y2="456.90" stroke="#000" stroke-width="1.8"/>
<line x1="336.90" y1="426.35" x2="342.20" y2="426.35" stroke="#000" stroke-width="1.8"/>
<text x="333.90" y="522.60" font-size="14" text-anchor="end" >0.0</text>
<text x="333.90" y="492.05" font-size="14" text-anchor="end" >0.2</text>
<text x="333.90" y="461.50" font-size="14" text-anchor="end" >0.4</text>
<text x="333.90" y="430.95" font-size="14" text-anchor="end" >0.6</text>
<text x="333.90" y="400.40" font-size="14" text-anchor="end" >0.8</text>
<line x1="378.75" y1="518.00" x2="378.75" y2="523.60" stroke="#000" stroke-width="1.8"/>
<line x1="457.70" y1="518.00" x2="457.70" y2="523.60" stroke="#000" stroke-width="1.8"/>
<text x="378.75" y="537.80" font-size="14.8" text-anchor="middle" >(-) OM</text>
<text x="457.70" y="537.80" font-size="14.8" text-anchor="middle" >(+) OM</text>
<text x="0" y="0" font-size="14.8" text-anchor="middle" transform="translate(307.70,453.10) rotate(-90)">tau (s)</text>
<text x="283.30" y="378.40" font-size="18" text-anchor="start" >E</text>
<text x="394.70" y="415.00" font-size="14" text-anchor="middle" >&lt;0.0001</text>
<path d="M386.90,459.00 V422.60 H404.00 V424.60" fill="none" stroke="#000" stroke-width="1.6" stroke-linecap="butt" stroke-linejoin="miter"/>
<text x="474.50" y="414.60" font-size="14" text-anchor="middle" >0.0045</text>
<path d="M466.10,461.50 V422.80 H483.10 V441.10" fill="none" stroke="#000" stroke-width="1.6" stroke-linecap="butt" stroke-linejoin="miter"/>
<rect x="327.10" y="62.10" width="13.80" height="10.80" fill="#fff" stroke="#000" stroke-width="2.0"/>
<text x="349.60" y="71.90" font-size="14.2" text-anchor="start" >WT-PLN: LV</text>
<rect x="327.10" y="79.90" width="13.80" height="10.50" fill="#fff" stroke="#ff0000" stroke-width="2.0"/>
<text x="349.60" y="89.30" font-size="14.2" text-anchor="start" >R14del-PLN: LV</text>
<pattern id="pl97" patternUnits="userSpaceOnUse" width="5.4" height="5.3" x="329.95" y="98.60"><circle cx="0.00" cy="0.00" r="0.76" fill="#000"/><circle cx="5.40" cy="0.00" r="0.76" fill="#000"/><circle cx="0.00" cy="5.30" r="0.76" fill="#000"/><circle cx="5.40" cy="5.30" r="0.76" fill="#000"/><circle cx="2.70" cy="2.65" r="0.76" fill="#000"/></pattern>
<rect x="327.10" y="98.60" width="13.80" height="10.20" fill="url(#pl97)" stroke="#000" stroke-width="2.0"/>
<text x="349.60" y="107.40" font-size="14.2" text-anchor="start" >WT-PLN: RV</text>
<pattern id="pl115" patternUnits="userSpaceOnUse" width="5.4" height="5.3" x="329.95" y="116.70"><circle cx="0.00" cy="0.00" r="0.76" fill="#000"/><circle cx="5.40" cy="0.00" r="0.76" fill="#000"/><circle cx="0.00" cy="5.30" r="0.76" fill="#000"/><circle cx="5.40" cy="5.30" r="0.76" fill="#000"/><circle cx="2.70" cy="2.65" r="0.76" fill="#000"/></pattern>
<rect x="327.10" y="116.70" width="13.80" height="10.80" fill="url(#pl115)" stroke="#ff0000" stroke-width="2.0"/>
<text x="349.60" y="126.00" font-size="14.2" text-anchor="start" >R14del-PLN: RV</text>
</g></svg>
</body></html>
